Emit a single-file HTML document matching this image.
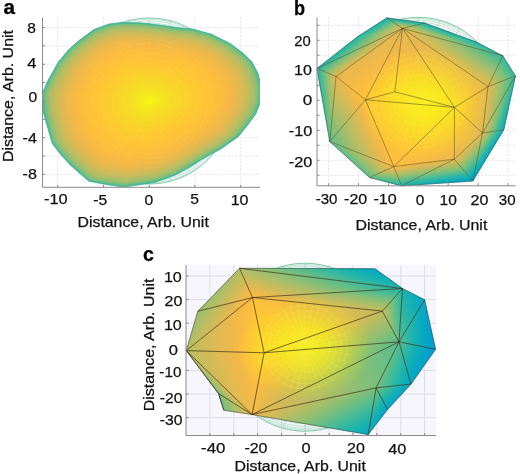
<!DOCTYPE html>
<html><head><meta charset="utf-8"><style>html,body{margin:0;padding:0;background:#fff;overflow:hidden;width:520px;height:474px}</style></head><body>
<svg width="520" height="474" viewBox="0 0 520 474" style="display:block;font-family:'Liberation Sans',Arial,sans-serif">
<defs><clipPath id="clipA"><rect x="42.5" y="16.5" width="217.5" height="170.8"/></clipPath>
<linearGradient id="f1" gradientUnits="userSpaceOnUse" x1="317" y1="68.5" x2="330.1" y2="85.1"><stop offset="0%" stop-color="#22b4ac"/><stop offset="14.3%" stop-color="#3cba9b"/><stop offset="28.6%" stop-color="#5bbd8a"/><stop offset="42.9%" stop-color="#7cbf7c"/><stop offset="57.1%" stop-color="#99bf70"/><stop offset="71.4%" stop-color="#b3bd65"/><stop offset="85.7%" stop-color="#cbbb5b"/><stop offset="100%" stop-color="#e2b951"/></linearGradient>
<linearGradient id="f2" gradientUnits="userSpaceOnUse" x1="386.8" y1="17.9" x2="395.3" y2="32.5"><stop offset="0%" stop-color="#14b0b5"/><stop offset="14.3%" stop-color="#2cb7a5"/><stop offset="28.6%" stop-color="#4bbc93"/><stop offset="42.9%" stop-color="#70bf81"/><stop offset="57.1%" stop-color="#91bf73"/><stop offset="71.4%" stop-color="#aebe67"/><stop offset="85.7%" stop-color="#c9bc5c"/><stop offset="100%" stop-color="#e2b951"/></linearGradient>
<linearGradient id="f3" gradientUnits="userSpaceOnUse" x1="386.8" y1="17.9" x2="385.7" y2="26.1"><stop offset="0%" stop-color="#14b0b5"/><stop offset="14.3%" stop-color="#2cb7a5"/><stop offset="28.6%" stop-color="#4bbc93"/><stop offset="42.9%" stop-color="#70bf81"/><stop offset="57.1%" stop-color="#91bf73"/><stop offset="71.4%" stop-color="#aebe67"/><stop offset="85.7%" stop-color="#c9bc5c"/><stop offset="100%" stop-color="#e2b951"/></linearGradient>
<linearGradient id="f4" gradientUnits="userSpaceOnUse" x1="424.6" y1="23.1" x2="420.4" y2="34.7"><stop offset="0%" stop-color="#18b1b2"/><stop offset="14.3%" stop-color="#31b8a2"/><stop offset="28.6%" stop-color="#50bc90"/><stop offset="42.9%" stop-color="#74bf7f"/><stop offset="57.1%" stop-color="#94bf72"/><stop offset="71.4%" stop-color="#b0bd66"/><stop offset="85.7%" stop-color="#cabb5c"/><stop offset="100%" stop-color="#e2b951"/></linearGradient>
<linearGradient id="f5" gradientUnits="userSpaceOnUse" x1="476.2" y1="42" x2="469.5" y2="57.4"><stop offset="0%" stop-color="#1db3af"/><stop offset="14.3%" stop-color="#36b99f"/><stop offset="28.6%" stop-color="#56bd8d"/><stop offset="42.9%" stop-color="#78bf7d"/><stop offset="57.1%" stop-color="#97bf71"/><stop offset="71.4%" stop-color="#b2bd66"/><stop offset="85.7%" stop-color="#cbbb5c"/><stop offset="100%" stop-color="#e2b951"/></linearGradient>
<linearGradient id="f6" gradientUnits="userSpaceOnUse" x1="502.7" y1="55.8" x2="484" y2="83.9"><stop offset="0%" stop-color="#33b8a1"/><stop offset="14.3%" stop-color="#4ebc91"/><stop offset="28.6%" stop-color="#6dbf82"/><stop offset="42.9%" stop-color="#8bbf75"/><stop offset="57.1%" stop-color="#a4be6b"/><stop offset="71.4%" stop-color="#bcbd62"/><stop offset="85.7%" stop-color="#d2bb59"/><stop offset="100%" stop-color="#e7b94f"/></linearGradient>
<linearGradient id="f7" gradientUnits="userSpaceOnUse" x1="402.5" y1="28.3" x2="381.5" y2="62.6"><stop offset="0%" stop-color="#e2b951"/><stop offset="14.3%" stop-color="#e8b94f"/><stop offset="28.6%" stop-color="#eeb94b"/><stop offset="42.9%" stop-color="#f3ba48"/><stop offset="57.1%" stop-color="#f8bb44"/><stop offset="71.4%" stop-color="#fcbd3f"/><stop offset="85.7%" stop-color="#fec03a"/><stop offset="100%" stop-color="#ffc436"/></linearGradient>
<linearGradient id="f8" gradientUnits="userSpaceOnUse" x1="402.5" y1="28.3" x2="376" y2="82.7"><stop offset="0%" stop-color="#e2b951"/><stop offset="14.3%" stop-color="#e9b94e"/><stop offset="28.6%" stop-color="#f0b94a"/><stop offset="42.9%" stop-color="#f7ba45"/><stop offset="57.1%" stop-color="#fcbd3f"/><stop offset="71.4%" stop-color="#fec139"/><stop offset="85.7%" stop-color="#fec634"/><stop offset="100%" stop-color="#fdcb30"/></linearGradient>
<linearGradient id="f9" gradientUnits="userSpaceOnUse" x1="402.5" y1="28.3" x2="429.5" y2="68.6"><stop offset="0%" stop-color="#e2b951"/><stop offset="14.3%" stop-color="#e9b94e"/><stop offset="28.6%" stop-color="#f0b94a"/><stop offset="42.9%" stop-color="#f7ba45"/><stop offset="57.1%" stop-color="#fcbd3f"/><stop offset="71.4%" stop-color="#fec139"/><stop offset="85.7%" stop-color="#fec634"/><stop offset="100%" stop-color="#fdcb30"/></linearGradient>
<linearGradient id="f10" gradientUnits="userSpaceOnUse" x1="402.5" y1="28.3" x2="424.2" y2="62.5"><stop offset="0%" stop-color="#e2b951"/><stop offset="14.3%" stop-color="#e8b94f"/><stop offset="28.6%" stop-color="#eeb94b"/><stop offset="42.9%" stop-color="#f3ba48"/><stop offset="57.1%" stop-color="#f8bb44"/><stop offset="71.4%" stop-color="#fcbd3f"/><stop offset="85.7%" stop-color="#fec03a"/><stop offset="100%" stop-color="#ffc436"/></linearGradient>
<linearGradient id="f11" gradientUnits="userSpaceOnUse" x1="317" y1="68.5" x2="327.2" y2="82.8"><stop offset="0%" stop-color="#22b4ac"/><stop offset="14.3%" stop-color="#3dba9b"/><stop offset="28.6%" stop-color="#5dbe89"/><stop offset="42.9%" stop-color="#7fbf7a"/><stop offset="57.1%" stop-color="#9dbf6e"/><stop offset="71.4%" stop-color="#b7bd64"/><stop offset="85.7%" stop-color="#d0bb5a"/><stop offset="100%" stop-color="#e7b94f"/></linearGradient>
<linearGradient id="f12" gradientUnits="userSpaceOnUse" x1="317" y1="68.5" x2="335" y2="66.6"><stop offset="0%" stop-color="#22b4ac"/><stop offset="14.3%" stop-color="#3dba9b"/><stop offset="28.6%" stop-color="#5dbe89"/><stop offset="42.9%" stop-color="#7fbf7a"/><stop offset="57.1%" stop-color="#9dbf6e"/><stop offset="71.4%" stop-color="#b7bd64"/><stop offset="85.7%" stop-color="#d0bb5a"/><stop offset="100%" stop-color="#e7b94f"/></linearGradient>
<linearGradient id="f13" gradientUnits="userSpaceOnUse" x1="329.8" y1="141.5" x2="374" y2="113.3"><stop offset="0%" stop-color="#5cbe8a"/><stop offset="14.3%" stop-color="#7cbf7c"/><stop offset="28.6%" stop-color="#98bf70"/><stop offset="42.9%" stop-color="#b2bd66"/><stop offset="57.1%" stop-color="#c9bc5c"/><stop offset="71.4%" stop-color="#dfba53"/><stop offset="85.7%" stop-color="#f5ba47"/><stop offset="100%" stop-color="#ffc436"/></linearGradient>
<linearGradient id="f14" gradientUnits="userSpaceOnUse" x1="365.4" y1="99.8" x2="366.3" y2="89.4"><stop offset="0%" stop-color="#ffc436"/><stop offset="14.3%" stop-color="#fec535"/><stop offset="28.6%" stop-color="#fec634"/><stop offset="42.9%" stop-color="#fec734"/><stop offset="57.1%" stop-color="#fec833"/><stop offset="71.4%" stop-color="#fec932"/><stop offset="85.7%" stop-color="#fdca31"/><stop offset="100%" stop-color="#fdcb30"/></linearGradient>
<linearGradient id="f15" gradientUnits="userSpaceOnUse" x1="393.8" y1="166.6" x2="399.3" y2="102.7"><stop offset="0%" stop-color="#fdbe3e"/><stop offset="14.3%" stop-color="#febf3d"/><stop offset="28.6%" stop-color="#fec03c"/><stop offset="42.9%" stop-color="#fec03a"/><stop offset="57.1%" stop-color="#fec139"/><stop offset="71.4%" stop-color="#ffc238"/><stop offset="85.7%" stop-color="#ffc337"/><stop offset="100%" stop-color="#ffc436"/></linearGradient>
<linearGradient id="f16" gradientUnits="userSpaceOnUse" x1="329.8" y1="141.5" x2="375" y2="119.8"><stop offset="0%" stop-color="#5cbe8a"/><stop offset="14.3%" stop-color="#7cbf7c"/><stop offset="28.6%" stop-color="#98bf70"/><stop offset="42.9%" stop-color="#b2bd66"/><stop offset="57.1%" stop-color="#c9bc5c"/><stop offset="71.4%" stop-color="#dfba53"/><stop offset="85.7%" stop-color="#f5ba47"/><stop offset="100%" stop-color="#ffc436"/></linearGradient>
<linearGradient id="f17" gradientUnits="userSpaceOnUse" x1="329.8" y1="141.5" x2="346.2" y2="123.4"><stop offset="0%" stop-color="#5cbe8a"/><stop offset="14.3%" stop-color="#7abf7c"/><stop offset="28.6%" stop-color="#95bf71"/><stop offset="42.9%" stop-color="#adbe68"/><stop offset="57.1%" stop-color="#c3bc5f"/><stop offset="71.4%" stop-color="#d8ba56"/><stop offset="85.7%" stop-color="#ecb94c"/><stop offset="100%" stop-color="#fdbe3e"/></linearGradient>
<linearGradient id="f18" gradientUnits="userSpaceOnUse" x1="401.5" y1="185.8" x2="403.5" y2="167.6"><stop offset="0%" stop-color="#1db3af"/><stop offset="14.3%" stop-color="#3cba9b"/><stop offset="28.6%" stop-color="#63be87"/><stop offset="42.9%" stop-color="#8abf76"/><stop offset="57.1%" stop-color="#abbe68"/><stop offset="71.4%" stop-color="#c9bc5c"/><stop offset="85.7%" stop-color="#e5b950"/><stop offset="100%" stop-color="#fdbe3e"/></linearGradient>
<linearGradient id="f19" gradientUnits="userSpaceOnUse" x1="401.5" y1="185.8" x2="398.4" y2="165.9"><stop offset="0%" stop-color="#1db3af"/><stop offset="14.3%" stop-color="#3cba9b"/><stop offset="28.6%" stop-color="#63be87"/><stop offset="42.9%" stop-color="#8abf76"/><stop offset="57.1%" stop-color="#abbe68"/><stop offset="71.4%" stop-color="#c9bc5c"/><stop offset="85.7%" stop-color="#e5b950"/><stop offset="100%" stop-color="#fdbe3e"/></linearGradient>
<linearGradient id="f20" gradientUnits="userSpaceOnUse" x1="454.3" y1="159.2" x2="430.1" y2="124.3"><stop offset="0%" stop-color="#ecb94c"/><stop offset="14.3%" stop-color="#f0b94a"/><stop offset="28.6%" stop-color="#f5ba47"/><stop offset="42.9%" stop-color="#f8bb44"/><stop offset="57.1%" stop-color="#fbbd40"/><stop offset="71.4%" stop-color="#febf3d"/><stop offset="85.7%" stop-color="#fec139"/><stop offset="100%" stop-color="#ffc436"/></linearGradient>
<linearGradient id="f21" gradientUnits="userSpaceOnUse" x1="482.5" y1="133" x2="450.1" y2="115.4"><stop offset="0%" stop-color="#ddba54"/><stop offset="14.3%" stop-color="#e4b951"/><stop offset="28.6%" stop-color="#eab94e"/><stop offset="42.9%" stop-color="#f0b94a"/><stop offset="57.1%" stop-color="#f6ba45"/><stop offset="71.4%" stop-color="#fbbd40"/><stop offset="85.7%" stop-color="#fec03b"/><stop offset="100%" stop-color="#ffc436"/></linearGradient>
<linearGradient id="f22" gradientUnits="userSpaceOnUse" x1="482.5" y1="133" x2="449.8" y2="123.6"><stop offset="0%" stop-color="#ddba54"/><stop offset="14.3%" stop-color="#e4b951"/><stop offset="28.6%" stop-color="#eab94e"/><stop offset="42.9%" stop-color="#f0b94a"/><stop offset="57.1%" stop-color="#f6ba45"/><stop offset="71.4%" stop-color="#fbbd40"/><stop offset="85.7%" stop-color="#fec03b"/><stop offset="100%" stop-color="#ffc436"/></linearGradient>
<linearGradient id="f23" gradientUnits="userSpaceOnUse" x1="502.7" y1="55.8" x2="478.3" y2="71.2"><stop offset="0%" stop-color="#33b8a1"/><stop offset="14.3%" stop-color="#4ebc91"/><stop offset="28.6%" stop-color="#6dbf82"/><stop offset="42.9%" stop-color="#8bbf75"/><stop offset="57.1%" stop-color="#a4be6b"/><stop offset="71.4%" stop-color="#bcbd62"/><stop offset="85.7%" stop-color="#d2bb59"/><stop offset="100%" stop-color="#e7b94f"/></linearGradient>
<linearGradient id="f24" gradientUnits="userSpaceOnUse" x1="515.4" y1="75.9" x2="490.3" y2="72"><stop offset="0%" stop-color="#33b8a1"/><stop offset="14.3%" stop-color="#4ebc91"/><stop offset="28.6%" stop-color="#6dbf82"/><stop offset="42.9%" stop-color="#8bbf75"/><stop offset="57.1%" stop-color="#a4be6b"/><stop offset="71.4%" stop-color="#bcbd62"/><stop offset="85.7%" stop-color="#d2bb59"/><stop offset="100%" stop-color="#e7b94f"/></linearGradient>
<linearGradient id="f25" gradientUnits="userSpaceOnUse" x1="503.8" y1="129.7" x2="485.2" y2="124.1"><stop offset="0%" stop-color="#0cadbb"/><stop offset="14.3%" stop-color="#22b4ac"/><stop offset="28.6%" stop-color="#3fba99"/><stop offset="42.9%" stop-color="#64be86"/><stop offset="57.1%" stop-color="#88bf77"/><stop offset="71.4%" stop-color="#a7be6a"/><stop offset="85.7%" stop-color="#c3bc5f"/><stop offset="100%" stop-color="#ddba54"/></linearGradient>
<linearGradient id="f26" gradientUnits="userSpaceOnUse" x1="472.8" y1="181" x2="457.3" y2="170.7"><stop offset="0%" stop-color="#06a3cb"/><stop offset="14.3%" stop-color="#0cadbc"/><stop offset="28.6%" stop-color="#26b5a9"/><stop offset="42.9%" stop-color="#4abc93"/><stop offset="57.1%" stop-color="#76bf7e"/><stop offset="71.4%" stop-color="#9dbf6e"/><stop offset="85.7%" stop-color="#bebc61"/><stop offset="100%" stop-color="#ddba54"/></linearGradient>
<linearGradient id="f27" gradientUnits="userSpaceOnUse" x1="472.8" y1="181" x2="452.4" y2="161.2"><stop offset="0%" stop-color="#06a3cb"/><stop offset="14.3%" stop-color="#0dadbb"/><stop offset="28.6%" stop-color="#2ab6a6"/><stop offset="42.9%" stop-color="#54bd8e"/><stop offset="57.1%" stop-color="#82bf79"/><stop offset="71.4%" stop-color="#a9be69"/><stop offset="85.7%" stop-color="#ccbb5b"/><stop offset="100%" stop-color="#ecb94c"/></linearGradient>
<linearGradient id="f28" gradientUnits="userSpaceOnUse" x1="472.8" y1="181" x2="469.3" y2="157"><stop offset="0%" stop-color="#06a3cb"/><stop offset="14.3%" stop-color="#0dadbb"/><stop offset="28.6%" stop-color="#2ab6a6"/><stop offset="42.9%" stop-color="#54bd8e"/><stop offset="57.1%" stop-color="#82bf79"/><stop offset="71.4%" stop-color="#a9be69"/><stop offset="85.7%" stop-color="#ccbb5b"/><stop offset="100%" stop-color="#ecb94c"/></linearGradient>
<radialGradient id="glowB" gradientUnits="userSpaceOnUse" cx="425.2" cy="104.3" r="64" gradientTransform="translate(425.2 104.3) scale(1 0.8750) translate(-425.2 -104.3)"><stop offset="0%" stop-color="#f7f611" stop-opacity="0.850"/><stop offset="35%" stop-color="#f7f611" stop-opacity="0.637"/><stop offset="70%" stop-color="#f7f611" stop-opacity="0.255"/><stop offset="100%" stop-color="#f7f611" stop-opacity="0.000"/></radialGradient>
<linearGradient id="f29" gradientUnits="userSpaceOnUse" x1="197.8" y1="311.3" x2="230.5" y2="332.1"><stop offset="0%" stop-color="#95bf71"/><stop offset="14.3%" stop-color="#a7be6a"/><stop offset="28.6%" stop-color="#b7bd64"/><stop offset="42.9%" stop-color="#c7bc5d"/><stop offset="57.1%" stop-color="#d6ba57"/><stop offset="71.4%" stop-color="#e5b950"/><stop offset="85.7%" stop-color="#f4ba47"/><stop offset="100%" stop-color="#febf3c"/></linearGradient>
<linearGradient id="f30" gradientUnits="userSpaceOnUse" x1="197.8" y1="311.3" x2="225.5" y2="332.6"><stop offset="0%" stop-color="#95bf71"/><stop offset="14.3%" stop-color="#a7be6a"/><stop offset="28.6%" stop-color="#b7bd64"/><stop offset="42.9%" stop-color="#c7bc5d"/><stop offset="57.1%" stop-color="#d6ba57"/><stop offset="71.4%" stop-color="#e5b950"/><stop offset="85.7%" stop-color="#f4ba47"/><stop offset="100%" stop-color="#febf3c"/></linearGradient>
<linearGradient id="f31" gradientUnits="userSpaceOnUse" x1="402.5" y1="288.5" x2="385.3" y2="341"><stop offset="0%" stop-color="#1db3af"/><stop offset="14.3%" stop-color="#3cba9b"/><stop offset="28.6%" stop-color="#64be86"/><stop offset="42.9%" stop-color="#8bbf75"/><stop offset="57.1%" stop-color="#adbe68"/><stop offset="71.4%" stop-color="#cbbb5c"/><stop offset="85.7%" stop-color="#e7b94f"/><stop offset="100%" stop-color="#febf3c"/></linearGradient>
<linearGradient id="f32" gradientUnits="userSpaceOnUse" x1="375" y1="268.8" x2="361.9" y2="308.6"><stop offset="0%" stop-color="#06a8c4"/><stop offset="14.3%" stop-color="#10afb8"/><stop offset="28.6%" stop-color="#23b5ab"/><stop offset="42.9%" stop-color="#3cba9b"/><stop offset="57.1%" stop-color="#59bd8b"/><stop offset="71.4%" stop-color="#78bf7d"/><stop offset="85.7%" stop-color="#94bf72"/><stop offset="100%" stop-color="#adbe68"/></linearGradient>
<linearGradient id="f33" gradientUnits="userSpaceOnUse" x1="402.5" y1="288.5" x2="394.8" y2="326.5"><stop offset="0%" stop-color="#1db3af"/><stop offset="14.3%" stop-color="#3cba9b"/><stop offset="28.6%" stop-color="#64be86"/><stop offset="42.9%" stop-color="#8bbf75"/><stop offset="57.1%" stop-color="#adbe68"/><stop offset="71.4%" stop-color="#cbbb5c"/><stop offset="85.7%" stop-color="#e7b94f"/><stop offset="100%" stop-color="#febf3c"/></linearGradient>
<linearGradient id="f34" gradientUnits="userSpaceOnUse" x1="382.3" y1="311.1" x2="290.6" y2="385.5"><stop offset="0%" stop-color="#c3bc5f"/><stop offset="14.3%" stop-color="#cfbb5a"/><stop offset="28.6%" stop-color="#dbba55"/><stop offset="42.9%" stop-color="#e6b94f"/><stop offset="57.1%" stop-color="#f2b949"/><stop offset="71.4%" stop-color="#fbbd40"/><stop offset="85.7%" stop-color="#ffc337"/><stop offset="100%" stop-color="#fdcb30"/></linearGradient>
<linearGradient id="f35" gradientUnits="userSpaceOnUse" x1="186.3" y1="350.6" x2="263.9" y2="355.6"><stop offset="0%" stop-color="#b8bd63"/><stop offset="14.3%" stop-color="#c6bc5e"/><stop offset="28.6%" stop-color="#d4bb58"/><stop offset="42.9%" stop-color="#e1ba52"/><stop offset="57.1%" stop-color="#eeb94b"/><stop offset="71.4%" stop-color="#f9bb43"/><stop offset="85.7%" stop-color="#ffc238"/><stop offset="100%" stop-color="#fdcb30"/></linearGradient>
<linearGradient id="f36" gradientUnits="userSpaceOnUse" x1="399" y1="341.8" x2="360.7" y2="286.2"><stop offset="0%" stop-color="#55bd8e"/><stop offset="14.3%" stop-color="#78bf7d"/><stop offset="28.6%" stop-color="#97bf70"/><stop offset="42.9%" stop-color="#b3bd65"/><stop offset="57.1%" stop-color="#cdbb5b"/><stop offset="71.4%" stop-color="#e5b950"/><stop offset="85.7%" stop-color="#fbbc41"/><stop offset="100%" stop-color="#fdcb30"/></linearGradient>
<linearGradient id="f37" gradientUnits="userSpaceOnUse" x1="402.5" y1="288.5" x2="380.7" y2="290.2"><stop offset="0%" stop-color="#1db3af"/><stop offset="14.3%" stop-color="#31b8a2"/><stop offset="28.6%" stop-color="#49bc94"/><stop offset="42.9%" stop-color="#65be86"/><stop offset="57.1%" stop-color="#80bf7a"/><stop offset="71.4%" stop-color="#98bf70"/><stop offset="85.7%" stop-color="#aebe67"/><stop offset="100%" stop-color="#c3bc5f"/></linearGradient>
<linearGradient id="f38" gradientUnits="userSpaceOnUse" x1="424.6" y1="299.8" x2="389.1" y2="311.3"><stop offset="0%" stop-color="#06a6c6"/><stop offset="14.3%" stop-color="#08abc0"/><stop offset="28.6%" stop-color="#0faeb9"/><stop offset="42.9%" stop-color="#19b2b1"/><stop offset="57.1%" stop-color="#26b5a9"/><stop offset="71.4%" stop-color="#34b8a0"/><stop offset="85.7%" stop-color="#43bb97"/><stop offset="100%" stop-color="#55bd8e"/></linearGradient>
<linearGradient id="f39" gradientUnits="userSpaceOnUse" x1="435.5" y1="349.3" x2="399.2" y2="350.4"><stop offset="0%" stop-color="#0899d1"/><stop offset="14.3%" stop-color="#06a1cc"/><stop offset="28.6%" stop-color="#06a7c5"/><stop offset="42.9%" stop-color="#0cadbc"/><stop offset="57.1%" stop-color="#19b2b2"/><stop offset="71.4%" stop-color="#2ab6a7"/><stop offset="85.7%" stop-color="#3eba9a"/><stop offset="100%" stop-color="#55bd8e"/></linearGradient>
<linearGradient id="f40" gradientUnits="userSpaceOnUse" x1="435.5" y1="349.3" x2="401.6" y2="335.5"><stop offset="0%" stop-color="#0899d1"/><stop offset="14.3%" stop-color="#06a1cc"/><stop offset="28.6%" stop-color="#06a7c5"/><stop offset="42.9%" stop-color="#0cadbc"/><stop offset="57.1%" stop-color="#19b2b2"/><stop offset="71.4%" stop-color="#2ab6a7"/><stop offset="85.7%" stop-color="#3eba9a"/><stop offset="100%" stop-color="#55bd8e"/></linearGradient>
<linearGradient id="f41" gradientUnits="userSpaceOnUse" x1="411" y1="384.1" x2="380.7" y2="374.1"><stop offset="0%" stop-color="#06a6c6"/><stop offset="14.3%" stop-color="#0aacbe"/><stop offset="28.6%" stop-color="#15b0b5"/><stop offset="42.9%" stop-color="#24b5aa"/><stop offset="57.1%" stop-color="#36b99f"/><stop offset="71.4%" stop-color="#4bbc93"/><stop offset="85.7%" stop-color="#63be87"/><stop offset="100%" stop-color="#7abf7c"/></linearGradient>
<linearGradient id="f42" gradientUnits="userSpaceOnUse" x1="387.5" y1="409.5" x2="370.9" y2="393.2"><stop offset="0%" stop-color="#06a5c9"/><stop offset="14.3%" stop-color="#08aac0"/><stop offset="28.6%" stop-color="#12afb7"/><stop offset="42.9%" stop-color="#21b4ac"/><stop offset="57.1%" stop-color="#34b8a0"/><stop offset="71.4%" stop-color="#49bc94"/><stop offset="85.7%" stop-color="#62be87"/><stop offset="100%" stop-color="#7abf7c"/></linearGradient>
<linearGradient id="f43" gradientUnits="userSpaceOnUse" x1="387.5" y1="409.5" x2="369.6" y2="398"><stop offset="0%" stop-color="#06a5c9"/><stop offset="14.3%" stop-color="#08aac0"/><stop offset="28.6%" stop-color="#12afb7"/><stop offset="42.9%" stop-color="#21b4ac"/><stop offset="57.1%" stop-color="#34b8a0"/><stop offset="71.4%" stop-color="#49bc94"/><stop offset="85.7%" stop-color="#62be87"/><stop offset="100%" stop-color="#7abf7c"/></linearGradient>
<linearGradient id="f44" gradientUnits="userSpaceOnUse" x1="368.2" y1="434.5" x2="332.4" y2="370"><stop offset="0%" stop-color="#07aac1"/><stop offset="14.3%" stop-color="#1bb2b0"/><stop offset="28.6%" stop-color="#3cba9b"/><stop offset="42.9%" stop-color="#65be86"/><stop offset="57.1%" stop-color="#8dbf74"/><stop offset="71.4%" stop-color="#b0bd66"/><stop offset="85.7%" stop-color="#cfbb5a"/><stop offset="100%" stop-color="#ecb94c"/></linearGradient>
<linearGradient id="f45" gradientUnits="userSpaceOnUse" x1="399" y1="341.8" x2="243.7" y2="373.7"><stop offset="0%" stop-color="#55bd8e"/><stop offset="14.3%" stop-color="#70bf81"/><stop offset="28.6%" stop-color="#89bf76"/><stop offset="42.9%" stop-color="#9fbe6d"/><stop offset="57.1%" stop-color="#b4bd65"/><stop offset="71.4%" stop-color="#c8bc5d"/><stop offset="85.7%" stop-color="#daba55"/><stop offset="100%" stop-color="#ecb94c"/></linearGradient>
<linearGradient id="f46" gradientUnits="userSpaceOnUse" x1="399" y1="341.8" x2="313.1" y2="282.2"><stop offset="0%" stop-color="#55bd8e"/><stop offset="14.3%" stop-color="#78bf7d"/><stop offset="28.6%" stop-color="#97bf70"/><stop offset="42.9%" stop-color="#b3bd65"/><stop offset="57.1%" stop-color="#cdbb5b"/><stop offset="71.4%" stop-color="#e5b950"/><stop offset="85.7%" stop-color="#fbbc41"/><stop offset="100%" stop-color="#fdcb30"/></linearGradient>
<linearGradient id="f47" gradientUnits="userSpaceOnUse" x1="186.3" y1="350.6" x2="254.5" y2="326.1"><stop offset="0%" stop-color="#b8bd63"/><stop offset="14.3%" stop-color="#c6bc5e"/><stop offset="28.6%" stop-color="#d4bb58"/><stop offset="42.9%" stop-color="#e1ba52"/><stop offset="57.1%" stop-color="#eeb94b"/><stop offset="71.4%" stop-color="#f9bb43"/><stop offset="85.7%" stop-color="#ffc238"/><stop offset="100%" stop-color="#fdcb30"/></linearGradient>
<linearGradient id="f48" gradientUnits="userSpaceOnUse" x1="218.5" y1="393.5" x2="226.2" y2="386.4"><stop offset="0%" stop-color="#7abf7c"/><stop offset="14.3%" stop-color="#8dbf74"/><stop offset="28.6%" stop-color="#9fbe6d"/><stop offset="42.9%" stop-color="#b0bd66"/><stop offset="57.1%" stop-color="#c0bc60"/><stop offset="71.4%" stop-color="#cfbb5a"/><stop offset="85.7%" stop-color="#deba53"/><stop offset="100%" stop-color="#ecb94c"/></linearGradient>
<linearGradient id="f49" gradientUnits="userSpaceOnUse" x1="223.8" y1="410.2" x2="245.5" y2="400.2"><stop offset="0%" stop-color="#6bbf83"/><stop offset="14.3%" stop-color="#82bf79"/><stop offset="28.6%" stop-color="#97bf71"/><stop offset="42.9%" stop-color="#a9be69"/><stop offset="57.1%" stop-color="#bbbd62"/><stop offset="71.4%" stop-color="#ccbb5b"/><stop offset="85.7%" stop-color="#dcba54"/><stop offset="100%" stop-color="#ecb94c"/></linearGradient>
<radialGradient id="glowC" gradientUnits="userSpaceOnUse" cx="305" cy="347.2" r="68" gradientTransform="translate(305 347.2) scale(1 0.7647) translate(-305 -347.2)"><stop offset="0%" stop-color="#f7f611" stop-opacity="0.880"/><stop offset="35%" stop-color="#f7f611" stop-opacity="0.660"/><stop offset="70%" stop-color="#f7f611" stop-opacity="0.264"/><stop offset="100%" stop-color="#f7f611" stop-opacity="0.000"/></radialGradient></defs>
<rect width="520" height="474" fill="#fff"/>
<line x1="57.7" y1="17.5" x2="57.7" y2="187.3" stroke="#e4e4ec" stroke-width="1" stroke-dasharray="2 1.5"/>
<line x1="103.5" y1="17.5" x2="103.5" y2="187.3" stroke="#e4e4ec" stroke-width="1" stroke-dasharray="2 1.5"/>
<line x1="149.3" y1="17.5" x2="149.3" y2="187.3" stroke="#e4e4ec" stroke-width="1" stroke-dasharray="2 1.5"/>
<line x1="194.9" y1="17.5" x2="194.9" y2="187.3" stroke="#e4e4ec" stroke-width="1" stroke-dasharray="2 1.5"/>
<line x1="240.7" y1="17.5" x2="240.7" y2="187.3" stroke="#e4e4ec" stroke-width="1" stroke-dasharray="2 1.5"/>
<line x1="42.5" y1="27.6" x2="260" y2="27.6" stroke="#e4e4ec" stroke-width="1" stroke-dasharray="2 1.5"/>
<line x1="42.5" y1="45.9" x2="260" y2="45.9" stroke="#e4e4ec" stroke-width="1" stroke-dasharray="2 1.5"/>
<line x1="42.5" y1="64.3" x2="260" y2="64.3" stroke="#e4e4ec" stroke-width="1" stroke-dasharray="2 1.5"/>
<line x1="42.5" y1="82.6" x2="260" y2="82.6" stroke="#e4e4ec" stroke-width="1" stroke-dasharray="2 1.5"/>
<line x1="42.5" y1="101" x2="260" y2="101" stroke="#e4e4ec" stroke-width="1" stroke-dasharray="2 1.5"/>
<line x1="42.5" y1="119.3" x2="260" y2="119.3" stroke="#e4e4ec" stroke-width="1" stroke-dasharray="2 1.5"/>
<line x1="42.5" y1="137.6" x2="260" y2="137.6" stroke="#e4e4ec" stroke-width="1" stroke-dasharray="2 1.5"/>
<line x1="42.5" y1="156" x2="260" y2="156" stroke="#e4e4ec" stroke-width="1" stroke-dasharray="2 1.5"/>
<line x1="42.5" y1="174.3" x2="260" y2="174.3" stroke="#e4e4ec" stroke-width="1" stroke-dasharray="2 1.5"/>
<ellipse cx="149.3" cy="101" rx="81.8" ry="81.8" fill="none" stroke="#a4d6bf" stroke-width="0.7" stroke-opacity="1.0"/>
<ellipse cx="149.3" cy="101" rx="80.1" ry="80.1" fill="none" stroke="#a4d6bf" stroke-width="0.7" stroke-opacity="1.0"/>
<ellipse cx="149.3" cy="101" rx="78" ry="78" fill="none" stroke="#a4d6bf" stroke-width="0.7" stroke-opacity="1.0"/>
<ellipse cx="149.3" cy="101" rx="75.5" ry="75.5" fill="none" stroke="#a4d6bf" stroke-width="0.7" stroke-opacity="1.0"/>
<ellipse cx="149.3" cy="101" rx="72.2" ry="72.2" fill="none" stroke="#a4d6bf" stroke-width="0.7" stroke-opacity="1.0"/>
<ellipse cx="149.3" cy="101" rx="68.1" ry="68.1" fill="none" stroke="#a4d6bf" stroke-width="0.7" stroke-opacity="1.0"/>
<line x1="215.7" y1="101" x2="232.3" y2="101" stroke="#a4d6bf" stroke-width="0.6" stroke-opacity="1.0"/>
<line x1="213.4" y1="118.2" x2="229.5" y2="122.5" stroke="#a4d6bf" stroke-width="0.6" stroke-opacity="1.0"/>
<line x1="206.8" y1="134.2" x2="221.2" y2="142.5" stroke="#a4d6bf" stroke-width="0.6" stroke-opacity="1.0"/>
<line x1="196.3" y1="148" x2="208" y2="159.7" stroke="#a4d6bf" stroke-width="0.6" stroke-opacity="1.0"/>
<line x1="182.5" y1="158.5" x2="190.8" y2="172.9" stroke="#a4d6bf" stroke-width="0.6" stroke-opacity="1.0"/>
<line x1="166.5" y1="165.1" x2="170.8" y2="181.2" stroke="#a4d6bf" stroke-width="0.6" stroke-opacity="1.0"/>
<line x1="149.3" y1="167.4" x2="149.3" y2="184" stroke="#a4d6bf" stroke-width="0.6" stroke-opacity="1.0"/>
<line x1="132.1" y1="165.1" x2="127.8" y2="181.2" stroke="#a4d6bf" stroke-width="0.6" stroke-opacity="1.0"/>
<line x1="116.1" y1="158.5" x2="107.8" y2="172.9" stroke="#a4d6bf" stroke-width="0.6" stroke-opacity="1.0"/>
<line x1="102.3" y1="148" x2="90.6" y2="159.7" stroke="#a4d6bf" stroke-width="0.6" stroke-opacity="1.0"/>
<line x1="91.8" y1="134.2" x2="77.4" y2="142.5" stroke="#a4d6bf" stroke-width="0.6" stroke-opacity="1.0"/>
<line x1="85.2" y1="118.2" x2="69.1" y2="122.5" stroke="#a4d6bf" stroke-width="0.6" stroke-opacity="1.0"/>
<line x1="82.9" y1="101" x2="66.3" y2="101" stroke="#a4d6bf" stroke-width="0.6" stroke-opacity="1.0"/>
<line x1="85.2" y1="83.8" x2="69.1" y2="79.5" stroke="#a4d6bf" stroke-width="0.6" stroke-opacity="1.0"/>
<line x1="91.8" y1="67.8" x2="77.4" y2="59.5" stroke="#a4d6bf" stroke-width="0.6" stroke-opacity="1.0"/>
<line x1="102.3" y1="54" x2="90.6" y2="42.3" stroke="#a4d6bf" stroke-width="0.6" stroke-opacity="1.0"/>
<line x1="116.1" y1="43.5" x2="107.8" y2="29.1" stroke="#a4d6bf" stroke-width="0.6" stroke-opacity="1.0"/>
<line x1="132.1" y1="36.9" x2="127.8" y2="20.8" stroke="#a4d6bf" stroke-width="0.6" stroke-opacity="1.0"/>
<line x1="149.3" y1="34.6" x2="149.3" y2="18" stroke="#a4d6bf" stroke-width="0.6" stroke-opacity="1.0"/>
<line x1="166.5" y1="36.9" x2="170.8" y2="20.8" stroke="#a4d6bf" stroke-width="0.6" stroke-opacity="1.0"/>
<line x1="182.5" y1="43.5" x2="190.8" y2="29.1" stroke="#a4d6bf" stroke-width="0.6" stroke-opacity="1.0"/>
<line x1="196.3" y1="54" x2="208" y2="42.3" stroke="#a4d6bf" stroke-width="0.6" stroke-opacity="1.0"/>
<line x1="206.8" y1="67.8" x2="221.2" y2="59.5" stroke="#a4d6bf" stroke-width="0.6" stroke-opacity="1.0"/>
<line x1="213.4" y1="83.8" x2="229.5" y2="79.5" stroke="#a4d6bf" stroke-width="0.6" stroke-opacity="1.0"/>
<ellipse cx="149.3" cy="101" rx="83" ry="83" fill="none" stroke="#72c29a" stroke-width="0.9" stroke-opacity="1.0"/>
<g clip-path="url(#clipA)"><path d="M42.5,92.7 L47.7,81 L58.3,62 L68.8,49.4 L78.5,40.8 L93.8,29.6 L109,24 L120.8,22.6 L140,22.8 L160,25 L180,28 L192.6,29 L211.6,34.2 L230.6,43.7 L243.2,53.2 L251.7,61.6 L258,73.2 L261,86 L261,100 L259.7,104 L255.9,113.7 L247.5,125.3 L238,136.9 L220,149.5 L211.6,153.8 L201,160 L190,167 L175.6,175 L155.4,182.2 L138,185 L123.6,187 L109.2,185 L96.5,182.7 L88.8,181.3 L79.2,173 L69.6,164.4 L60,153.8 L52.1,143.3 L46.3,123 L43.5,113 L42.5,100Z" fill="#55bd8e"/>
<path d="M44.3,92.8 L49.4,81.3 L59.8,62.6 L70.1,50.3 L79.7,41.8 L94.7,30.8 L109.7,25.3 L121.3,23.9 L140.2,24.1 L159.8,26.3 L179.5,29.2 L191.9,30.2 L210.6,35.3 L229.2,44.7 L241.6,54 L250,62.3 L256.2,73.7 L259.1,86.2 L259.1,100 L257.9,104 L254.1,113.5 L245.9,124.9 L236.5,136.3 L218.8,148.7 L210.6,152.9 L200.1,159 L189.3,165.9 L175.2,173.8 L155.3,180.8 L138.2,183.6 L124,185.6 L109.9,183.6 L97.4,181.3 L89.8,180 L80.4,171.8 L70.9,163.3 L61.5,152.9 L53.7,142.6 L48,122.6 L45.3,112.8 L44.3,100Z" fill="#74bf7f"/>
<path d="M46.1,93 L51.1,81.7 L61.3,63.3 L71.5,51.1 L80.9,42.8 L95.7,32 L110.3,26.6 L121.8,25.2 L140.3,25.4 L159.6,27.5 L179,30.4 L191.2,31.4 L209.5,36.4 L227.9,45.6 L240.1,54.8 L248.3,62.9 L254.4,74.1 L257.3,86.5 L257.3,100 L256,103.9 L252.3,113.3 L244.2,124.5 L235,135.7 L217.6,147.9 L209.5,152 L199.3,158 L188.6,164.8 L174.7,172.5 L155.2,179.5 L138.4,182.2 L124.5,184.1 L110.5,182.2 L98.3,180 L90.8,178.6 L81.5,170.6 L72.3,162.3 L63,152 L55.3,141.9 L49.7,122.3 L47,112.6 L46.1,100Z" fill="#8ebf74"/>
<path d="M47.8,93.1 L52.8,82 L62.9,64 L72.8,52 L82,43.8 L96.6,33.2 L111,27.9 L122.2,26.5 L140.5,26.7 L159.5,28.8 L178.5,31.7 L190.4,32.6 L208.5,37.5 L226.5,46.6 L238.5,55.6 L246.6,63.6 L252.6,74.6 L255.4,86.8 L255.4,100 L254.2,103.8 L250.6,113.1 L242.6,124.1 L233.6,135.1 L216.5,147.1 L208.5,151.2 L198.4,157.1 L188,163.7 L174.3,171.3 L155.1,178.1 L138.6,180.8 L124.9,182.7 L111.2,180.8 L99.1,178.6 L91.8,177.3 L82.7,169.4 L73.6,161.2 L64.5,151.2 L57,141.2 L51.5,121.9 L48.8,112.4 L47.8,100Z" fill="#9ebe6e"/>
<path d="M49.6,93.3 L54.5,82.3 L64.4,64.6 L74.2,52.8 L83.2,44.8 L97.5,34.4 L111.7,29.1 L122.7,27.8 L140.6,28 L159.3,30.1 L178,32.9 L189.7,33.8 L207.4,38.7 L225.2,47.5 L236.9,56.4 L244.9,64.2 L250.8,75.1 L253.6,87 L253.6,100.1 L252.3,103.8 L248.8,112.9 L241,123.7 L232.1,134.5 L215.3,146.3 L207.4,150.3 L197.6,156.1 L187.3,162.6 L173.8,170.1 L155,176.8 L138.8,179.4 L125.3,181.3 L111.9,179.4 L100,177.3 L92.8,175.9 L83.9,168.2 L74.9,160.2 L66,150.3 L58.6,140.5 L53.2,121.5 L50.6,112.2 L49.6,100.1Z" fill="#adbe68"/>
<path d="M51.4,93.4 L56.2,82.7 L65.9,65.2 L75.5,53.7 L84.4,45.8 L98.4,35.5 L112.4,30.4 L123.2,29.1 L140.8,29.3 L159.1,31.3 L177.4,34.1 L189,35 L206.4,39.8 L223.8,48.5 L235.4,57.2 L243.2,64.9 L248.9,75.5 L251.7,87.2 L251.7,100.1 L250.5,103.8 L247,112.6 L239.3,123.3 L230.6,133.9 L214.1,145.5 L206.4,149.4 L196.7,155.1 L186.6,161.5 L173.4,168.8 L154.9,175.4 L138.9,178 L125.7,179.8 L112.5,178 L100.9,175.9 L93.8,174.6 L85,167 L76.2,159.1 L67.4,149.4 L60.2,139.8 L54.9,121.2 L52.3,112 L51.4,100.1Z" fill="#b7bd64"/>
<path d="M53.2,93.5 L57.9,83 L67.4,65.9 L76.8,54.6 L85.6,46.8 L99.3,36.7 L113,31.7 L123.7,30.4 L140.9,30.6 L158.9,32.6 L176.9,35.3 L188.3,36.2 L205.4,40.9 L222.5,49.4 L233.8,58 L241.5,65.5 L247.1,76 L249.8,87.5 L249.8,100.1 L248.7,103.7 L245.2,112.4 L237.7,122.9 L229.1,133.3 L212.9,144.7 L205.4,148.5 L195.8,154.1 L185.9,160.4 L173,167.6 L154.8,174.1 L139.1,176.6 L126.2,178.4 L113.2,176.6 L101.8,174.5 L94.8,173.3 L86.2,165.8 L77.6,158.1 L68.9,148.5 L61.8,139.1 L56.6,120.8 L54.1,111.8 L53.2,100.1Z" fill="#c0bc60"/>
<path d="M55,93.7 L59.6,83.3 L68.9,66.6 L78.2,55.4 L86.8,47.8 L100.3,37.9 L113.7,33 L124.1,31.7 L141.1,31.9 L158.8,33.9 L176.4,36.5 L187.5,37.4 L204.3,42 L221.1,50.4 L232.2,58.8 L239.8,66.2 L245.3,76.4 L248,87.8 L248,100.1 L246.8,103.7 L243.5,112.2 L236,122.5 L227.7,132.7 L211.8,143.8 L204.3,147.6 L195,153.1 L185.3,159.3 L172.5,166.4 L154.7,172.7 L139.3,175.2 L126.6,177 L113.9,175.2 L102.7,173.2 L95.9,171.9 L87.4,164.6 L78.9,157 L70.4,147.6 L63.4,138.4 L58.3,120.4 L55.8,111.6 L55,100.1Z" fill="#c9bc5c"/>
<path d="M56.7,93.8 L61.2,83.7 L70.4,67.2 L79.5,56.3 L87.9,48.8 L101.2,39.1 L114.4,34.3 L124.6,33.1 L141.2,33.2 L158.6,35.1 L175.9,37.7 L186.8,38.6 L203.3,43.1 L219.8,51.3 L230.7,59.6 L238,66.9 L243.5,76.9 L246.1,88 L246.1,100.1 L245,103.6 L241.7,112 L234.4,122.1 L226.2,132.1 L210.6,143 L203.3,146.8 L194.1,152.1 L184.6,158.2 L172.1,165.1 L154.6,171.4 L139.5,173.8 L127,175.5 L114.5,173.8 L103.5,171.8 L96.9,170.6 L88.5,163.4 L80.2,155.9 L71.9,146.8 L65.1,137.7 L60,120.1 L57.6,111.4 L56.7,100.1Z" fill="#d0bb59"/>
<path d="M58.5,93.9 L62.9,84 L72,67.8 L80.9,57.1 L89.1,49.8 L102.1,40.3 L115,35.5 L125.1,34.4 L141.4,34.5 L158.4,36.4 L175.4,39 L186.1,39.8 L202.3,44.2 L218.4,52.3 L229.1,60.4 L236.3,67.5 L241.7,77.4 L244.2,88.2 L244.2,100.2 L243.1,103.5 L239.9,111.8 L232.8,121.7 L224.7,131.5 L209.4,142.2 L202.3,145.9 L193.2,151.2 L183.9,157.1 L171.7,163.9 L154.5,170 L139.7,172.4 L127.5,174.1 L115.2,172.4 L104.4,170.4 L97.9,169.3 L89.7,162.2 L81.6,154.9 L73.4,145.9 L66.7,137 L61.8,119.7 L59.4,111.2 L58.5,100.2Z" fill="#d7ba56"/>
<path d="M60.3,94.1 L64.6,84.3 L73.5,68.5 L82.2,58 L90.3,50.8 L103,41.5 L115.7,36.8 L125.5,35.7 L141.6,35.8 L158.2,37.7 L174.9,40.2 L185.4,41 L201.2,45.3 L217.1,53.2 L227.6,61.2 L234.6,68.2 L239.9,77.8 L242.4,88.5 L242.4,100.2 L241.3,103.5 L238.1,111.6 L231.1,121.2 L223.2,130.9 L208.2,141.4 L201.2,145 L192.4,150.2 L183.2,156 L171.2,162.7 L154.4,168.7 L139.9,171 L127.9,172.7 L115.9,171 L105.3,169.1 L98.9,167.9 L90.9,161 L82.9,153.8 L74.9,145 L68.3,136.2 L63.5,119.3 L61.1,111 L60.3,100.2Z" fill="#deba54"/>
<path d="M62.1,94.2 L66.3,84.7 L75,69.2 L83.6,58.9 L91.5,51.8 L104,42.7 L116.4,38.1 L126,37 L141.7,37.1 L158,38.9 L174.4,41.4 L184.7,42.2 L200.2,46.4 L215.7,54.2 L226,62 L232.9,68.8 L238.1,78.3 L240.5,88.8 L240.5,100.2 L239.5,103.5 L236.4,111.4 L229.5,120.8 L221.7,130.3 L207,140.6 L200.2,144.1 L191.5,149.2 L182.5,154.9 L170.8,161.4 L154.3,167.3 L140.1,169.6 L128.3,171.2 L116.6,169.6 L106.2,167.7 L99.9,166.6 L92.1,159.8 L84.2,152.8 L76.4,144.1 L69.9,135.5 L65.2,119 L62.9,110.8 L62.1,100.2Z" fill="#e2b951"/>
<path d="M63.9,94.4 L68,85 L76.5,69.8 L84.9,59.7 L92.7,52.8 L104.9,43.9 L117.1,39.4 L126.5,38.3 L141.9,38.4 L157.9,40.2 L173.9,42.6 L183.9,43.4 L199.1,47.6 L214.3,55.2 L224.4,62.8 L231.2,69.5 L236.3,78.8 L238.7,89 L238.7,100.2 L237.6,103.4 L234.6,111.2 L227.9,120.4 L220.3,129.7 L205.9,139.8 L199.1,143.2 L190.7,148.2 L181.9,153.8 L170.3,160.2 L154.2,166 L140.3,168.2 L128.7,169.8 L117.2,168.2 L107.1,166.4 L100.9,165.2 L93.2,158.6 L85.5,151.7 L77.9,143.2 L71.5,134.8 L66.9,118.6 L64.7,110.6 L63.9,100.2Z" fill="#e6b94f"/>
<path d="M65.6,94.5 L69.7,85.3 L78,70.5 L86.2,60.6 L93.8,53.8 L105.8,45.1 L117.7,40.7 L127,39.6 L142,39.7 L157.7,41.5 L173.3,43.8 L183.2,44.6 L198.1,48.7 L213,56.1 L222.9,63.6 L229.5,70.1 L234.4,79.2 L236.8,89.2 L236.8,100.2 L235.8,103.3 L232.8,110.9 L226.2,120 L218.8,129.1 L204.7,139 L198.1,142.4 L189.8,147.2 L181.2,152.7 L169.9,159 L154.1,164.6 L140.4,166.8 L129.2,168.4 L117.9,166.8 L107.9,165 L101.9,163.9 L94.4,157.4 L86.9,150.7 L79.3,142.4 L73.2,134.1 L68.6,118.2 L66.4,110.4 L65.6,100.2Z" fill="#ebb94d"/>
<path d="M67.4,94.6 L71.4,85.7 L79.5,71.1 L87.6,61.4 L95,54.8 L106.8,46.3 L118.4,42 L127.5,40.9 L142.2,41 L157.5,42.7 L172.8,45 L182.5,45.8 L197.1,49.8 L211.6,57.1 L221.3,64.4 L227.8,70.8 L232.6,79.7 L234.9,89.5 L234.9,100.2 L233.9,103.3 L231,110.7 L224.6,119.6 L217.3,128.5 L203.5,138.2 L197.1,141.5 L188.9,146.2 L180.5,151.6 L169.5,157.7 L154,163.3 L140.6,165.4 L129.6,166.9 L118.6,165.4 L108.8,163.6 L102.9,162.6 L95.6,156.2 L88.2,149.6 L80.8,141.5 L74.8,133.4 L70.3,117.9 L68.2,110.2 L67.4,100.2Z" fill="#efb94b"/>
<path d="M69.2,94.8 L73.1,86 L81,71.8 L88.9,62.3 L96.2,55.8 L107.7,47.4 L119.1,43.2 L127.9,42.2 L142.3,42.3 L157.3,44 L172.3,46.2 L181.8,47 L196,50.9 L210.3,58 L219.7,65.2 L226.1,71.5 L230.8,80.2 L233.1,89.8 L233.1,100.2 L232.1,103.2 L229.2,110.5 L222.9,119.2 L215.8,127.9 L202.3,137.4 L196,140.6 L188.1,145.2 L179.8,150.5 L169,156.5 L153.9,161.9 L140.8,164 L130,165.5 L119.2,164 L109.7,162.3 L103.9,161.2 L96.7,155 L89.5,148.6 L82.3,140.6 L76.4,132.7 L72,117.5 L70,110 L69.2,100.2Z" fill="#f2b949"/>
<path d="M71,94.9 L74.8,86.3 L82.6,72.4 L90.3,63.2 L97.4,56.9 L108.6,48.6 L119.7,44.5 L128.4,43.5 L142.5,43.7 L157.1,45.3 L171.8,47.5 L181.1,48.2 L195,52 L208.9,59 L218.2,65.9 L224.4,72.1 L229,80.6 L231.2,90 L231.2,100.3 L230.3,103.2 L227.5,110.3 L221.3,118.8 L214.3,127.3 L201.1,136.6 L195,139.7 L187.2,144.3 L179.1,149.4 L168.6,155.3 L153.8,160.5 L141,162.6 L130.5,164.1 L119.9,162.6 L110.6,160.9 L104.9,159.9 L97.9,153.8 L90.9,147.5 L83.8,139.7 L78,132 L73.8,117.1 L71.7,109.8 L71,100.3Z" fill="#f4ba48"/>
<path d="M72.8,95.1 L76.5,86.7 L84.1,73 L91.6,64 L98.6,57.9 L109.5,49.8 L120.4,45.8 L128.9,44.8 L142.6,45 L157,46.5 L171.3,48.7 L180.3,49.4 L193.9,53.1 L207.6,59.9 L216.6,66.7 L222.7,72.8 L227.2,81.1 L229.4,90.2 L229.4,100.3 L228.4,103.2 L225.7,110.1 L219.7,118.4 L212.9,126.7 L200,135.8 L193.9,138.8 L186.4,143.3 L178.5,148.3 L168.1,154 L153.7,159.2 L141.2,161.2 L130.9,162.6 L120.6,161.2 L111.5,159.6 L105.9,158.5 L99.1,152.6 L92.2,146.4 L85.3,138.8 L79.6,131.3 L75.5,116.8 L73.5,109.6 L72.8,100.3Z" fill="#f6ba46"/>
<path d="M74.5,95.2 L78.2,87 L85.6,73.7 L93,64.9 L99.7,58.9 L110.5,51 L121.1,47.1 L129.3,46.1 L142.8,46.3 L156.8,47.8 L170.8,49.9 L179.6,50.6 L192.9,54.2 L206.2,60.9 L215,67.5 L221,73.4 L225.4,81.5 L227.5,90.5 L227.5,100.3 L226.6,103.1 L223.9,109.9 L218,118 L211.4,126.1 L198.8,134.9 L192.9,138 L185.5,142.3 L177.8,147.2 L167.7,152.8 L153.6,157.8 L141.4,159.8 L131.3,161.2 L121.2,159.8 L112.3,158.2 L107,157.2 L100.2,151.4 L93.5,145.4 L86.8,138 L81.3,130.6 L77.2,116.4 L75.2,109.4 L74.5,100.3Z" fill="#f8ba44"/>
<path d="M76.3,95.3 L79.9,87.3 L87.1,74.3 L94.3,65.7 L100.9,59.9 L111.4,52.2 L121.8,48.4 L129.8,47.4 L142.9,47.6 L156.6,49.1 L170.3,51.1 L178.9,51.8 L191.9,55.4 L204.9,61.8 L213.5,68.3 L219.3,74.1 L223.6,82 L225.6,90.8 L225.6,100.3 L224.7,103 L222.1,109.7 L216.4,117.6 L209.9,125.5 L197.6,134.1 L191.9,137.1 L184.6,141.3 L177.1,146.1 L167.3,151.6 L153.5,156.5 L141.6,158.4 L131.7,159.8 L121.9,158.4 L113.2,156.8 L108,155.9 L101.4,150.2 L94.8,144.3 L88.3,137.1 L82.9,129.9 L78.9,116 L77,109.2 L76.3,100.3Z" fill="#f9bb43"/>
<path d="M78.1,95.5 L81.6,87.7 L88.6,75 L95.6,66.6 L102.1,60.9 L112.3,53.4 L122.4,49.7 L130.3,48.7 L143.1,48.9 L156.4,50.3 L169.8,52.3 L178.2,53 L190.8,56.5 L203.5,62.8 L211.9,69.1 L217.6,74.7 L221.8,82.5 L223.8,91 L223.8,100.3 L222.9,103 L220.4,109.5 L214.8,117.2 L208.4,124.9 L196.4,133.3 L190.8,136.2 L183.8,140.3 L176.4,145 L166.8,150.3 L153.4,155.1 L141.8,157 L132.2,158.3 L122.6,157 L114.1,155.5 L109,154.5 L102.6,149 L96.2,143.3 L89.8,136.2 L84.5,129.2 L80.6,115.7 L78.8,109 L78.1,100.3Z" fill="#fbbc41"/>
<path d="M79.9,95.6 L83.3,88 L90.2,75.7 L97,67.5 L103.3,61.9 L113.2,54.6 L123.1,50.9 L130.8,50 L143.3,50.2 L156.3,51.6 L169.3,53.5 L177.4,54.2 L189.8,57.6 L202.1,63.8 L210.3,69.9 L215.9,75.4 L220,82.9 L221.9,91.2 L221.9,100.3 L221.1,103 L218.6,109.3 L213.1,116.8 L207,124.3 L195.3,132.5 L189.8,135.3 L182.9,139.3 L175.8,143.9 L166.4,149.1 L153.3,153.8 L142,155.6 L132.6,156.9 L123.2,155.6 L115,154.1 L110,153.2 L103.7,147.8 L97.5,142.2 L91.3,135.3 L86.1,128.5 L82.3,115.3 L80.5,108.8 L79.9,100.3Z" fill="#fcbd3f"/>
<path d="M81.7,95.7 L85,88.3 L91.7,76.3 L98.3,68.3 L104.5,62.9 L114.2,55.8 L123.8,52.2 L131.2,51.3 L143.4,51.5 L156.1,52.9 L168.7,54.8 L176.7,55.4 L188.8,58.7 L200.8,64.7 L208.8,70.7 L214.2,76 L218.1,83.4 L220,91.5 L220,100.4 L219.2,102.9 L216.8,109 L211.5,116.4 L205.5,123.7 L194.1,131.7 L188.8,134.4 L182,138.4 L175.1,142.8 L166,147.9 L153.2,152.4 L142.1,154.2 L133,155.5 L123.9,154.2 L115.9,152.7 L111,151.9 L104.9,146.6 L98.8,141.2 L92.7,134.4 L87.7,127.8 L84.1,114.9 L82.3,108.6 L81.7,100.4Z" fill="#fdbe3e"/>
<path d="M83.4,95.9 L86.6,88.7 L93.2,77 L99.7,69.2 L105.6,63.9 L115.1,57 L124.4,53.5 L131.7,52.7 L143.6,52.8 L155.9,54.1 L168.2,56 L176,56.6 L187.7,59.8 L199.4,65.7 L207.2,71.5 L212.4,76.7 L216.3,83.9 L218.2,91.8 L218.2,100.4 L217.4,102.8 L215,108.8 L209.9,116 L204,123.1 L192.9,130.9 L187.7,133.6 L181.2,137.4 L174.4,141.7 L165.5,146.6 L153.1,151.1 L142.3,152.8 L133.5,154 L124.6,152.8 L116.7,151.4 L112,150.5 L106.1,145.4 L100.2,140.1 L94.2,133.6 L89.4,127.1 L85.8,114.6 L84.1,108.4 L83.4,100.4Z" fill="#febf3d"/>
<path d="M85.2,96 L88.3,89 L94.7,77.6 L101,70 L106.8,64.9 L116,58.2 L125.1,54.8 L132.2,54 L143.7,54.1 L155.7,55.4 L167.7,57.2 L175.3,57.8 L186.7,60.9 L198.1,66.6 L205.6,72.3 L210.7,77.4 L214.5,84.3 L216.3,92 L216.3,100.4 L215.5,102.8 L213.3,108.6 L208.2,115.6 L202.5,122.5 L191.7,130.1 L186.7,132.7 L180.3,136.4 L173.7,140.6 L165.1,145.4 L153,149.7 L142.5,151.4 L133.9,152.6 L125.2,151.4 L117.6,150 L113,149.2 L107.2,144.2 L101.5,139 L95.7,132.7 L91,126.4 L87.5,114.2 L85.8,108.2 L85.2,100.4Z" fill="#fec03c"/>
<path d="M87,96.2 L90,89.3 L96.2,78.2 L102.3,70.9 L108,65.9 L116.9,59.4 L125.8,56.1 L132.7,55.3 L143.9,55.4 L155.5,56.7 L167.2,58.4 L174.6,59 L185.6,62 L196.7,67.6 L204.1,73.1 L209,78 L212.7,84.8 L214.5,92.2 L214.5,100.4 L213.7,102.8 L211.5,108.4 L206.6,115.2 L201,121.9 L190.5,129.3 L185.6,131.8 L179.5,135.4 L173,139.5 L164.6,144.2 L152.9,148.4 L142.7,150 L134.3,151.2 L125.9,150 L118.5,148.7 L114,147.8 L108.4,143 L102.8,138 L97.2,131.8 L92.6,125.7 L89.2,113.8 L87.6,108 L87,100.4Z" fill="#fec03a"/>
<path d="M88.8,96.3 L91.7,89.7 L97.7,78.9 L103.7,71.8 L109.2,66.9 L117.9,60.5 L126.5,57.4 L133.2,56.6 L144,56.7 L155.4,57.9 L166.7,59.6 L173.8,60.2 L184.6,63.1 L195.4,68.5 L202.5,73.9 L207.3,78.7 L210.9,85.2 L212.6,92.5 L212.6,100.4 L211.9,102.7 L209.7,108.2 L204.9,114.8 L199.6,121.3 L189.4,128.5 L184.6,130.9 L178.6,134.4 L172.4,138.4 L164.2,142.9 L152.8,147 L142.9,148.6 L134.7,149.7 L126.6,148.6 L119.4,147.3 L115,146.5 L109.6,141.8 L104.1,136.9 L98.7,130.9 L94.2,125 L90.9,113.5 L89.3,107.8 L88.8,100.4Z" fill="#fec139"/>
<path d="M90.6,96.4 L93.4,90 L99.2,79.5 L105,72.6 L110.4,67.9 L118.8,61.7 L127.1,58.6 L133.6,57.9 L144.2,58 L155.2,59.2 L166.2,60.8 L173.1,61.4 L183.6,64.3 L194,69.5 L200.9,74.7 L205.6,79.3 L209.1,85.7 L210.7,92.8 L210.7,100.5 L210,102.7 L207.9,108 L203.3,114.4 L198.1,120.7 L188.2,127.7 L183.6,130 L177.7,133.4 L171.7,137.3 L163.8,141.7 L152.7,145.7 L143.1,147.2 L135.2,148.3 L127.2,147.2 L120.3,145.9 L116,145.2 L110.7,140.6 L105.5,135.9 L100.2,130 L95.8,124.3 L92.7,113.1 L91.1,107.6 L90.6,100.5Z" fill="#ffc238"/>
<path d="M92.3,96.6 L95.1,90.3 L100.8,80.2 L106.4,73.5 L111.5,68.9 L119.7,62.9 L127.8,59.9 L134.1,59.2 L144.3,59.3 L155,60.5 L165.7,62.1 L172.4,62.6 L182.5,65.4 L192.7,70.4 L199.4,75.5 L203.9,80 L207.3,86.2 L208.9,93 L208.9,100.5 L208.2,102.6 L206.2,107.8 L201.7,114 L196.6,120.1 L187,126.9 L182.5,129.2 L176.9,132.5 L171,136.2 L163.3,140.5 L152.6,144.3 L143.3,145.8 L135.6,146.9 L127.9,145.8 L121.1,144.6 L117,143.8 L111.9,139.4 L106.8,134.8 L101.7,129.2 L97.5,123.6 L94.4,112.7 L92.9,107.4 L92.3,100.5Z" fill="#ffc337"/>
<path d="M94.1,96.7 L96.8,90.7 L102.3,80.8 L107.7,74.3 L112.7,69.9 L120.6,64.1 L128.5,61.2 L134.6,60.5 L144.5,60.6 L154.8,61.7 L165.2,63.3 L171.7,63.8 L181.5,66.5 L191.3,71.4 L197.8,76.3 L202.2,80.6 L205.5,86.6 L207,93.2 L207,100.5 L206.3,102.5 L204.4,107.6 L200,113.6 L195.1,119.5 L185.8,126.1 L181.5,128.3 L176,131.5 L170.3,135.1 L162.9,139.2 L152.5,143 L143.5,144.4 L136,145.4 L128.6,144.4 L122,143.2 L118,142.5 L113.1,138.2 L108.1,133.8 L103.2,128.3 L99.1,122.9 L96.1,112.4 L94.6,107.2 L94.1,100.5Z" fill="#ffc436"/>
<path d="M95.9,96.8 L98.5,91 L103.8,81.5 L109.1,75.2 L113.9,70.9 L121.6,65.3 L129.2,62.5 L135.1,61.8 L144.7,61.9 L154.7,63 L164.7,64.5 L170.9,65 L180.4,67.6 L189.9,72.3 L196.2,77.1 L200.5,81.3 L203.7,87.1 L205.2,93.5 L205.2,100.5 L204.5,102.5 L202.6,107.3 L198.4,113.2 L193.7,119 L184.7,125.2 L180.4,127.4 L175.2,130.5 L169.7,134 L162.4,138 L152.4,141.6 L143.7,143 L136.4,144 L129.2,143 L122.9,141.8 L119.1,141.2 L114.2,137 L109.5,132.7 L104.7,127.4 L100.7,122.2 L97.8,112 L96.4,107 L95.9,100.5Z" fill="#fec535"/>
<path d="M97.7,97 L100.2,91.3 L105.3,82.2 L110.4,76.1 L115.1,71.9 L122.5,66.5 L129.8,63.8 L135.5,63.1 L144.8,63.2 L154.5,64.3 L164.1,65.7 L170.2,66.2 L179.4,68.7 L188.6,73.3 L194.7,77.9 L198.8,82 L201.8,87.6 L203.3,93.8 L203.3,100.5 L202.7,102.5 L200.8,107.1 L196.8,112.7 L192.2,118.4 L183.5,124.4 L179.4,126.5 L174.3,129.5 L169,132.9 L162,136.8 L152.2,140.2 L143.8,141.6 L136.9,142.6 L129.9,141.6 L123.8,140.5 L120.1,139.8 L115.4,135.8 L110.8,131.6 L106.1,126.5 L102.3,121.4 L99.5,111.6 L98.2,106.8 L97.7,100.5Z" fill="#fec734"/>
<path d="M99.5,97.1 L101.9,91.7 L106.8,82.8 L111.7,76.9 L116.3,72.9 L123.4,67.7 L130.5,65.1 L136,64.4 L145,64.5 L154.3,65.5 L163.6,66.9 L169.5,67.4 L178.4,69.8 L187.2,74.3 L193.1,78.7 L197.1,82.6 L200,88 L201.4,94 L201.4,100.5 L200.8,102.4 L199,106.9 L195.1,112.3 L190.7,117.8 L182.3,123.6 L178.4,125.6 L173.4,128.5 L168.3,131.8 L161.6,135.5 L152.1,138.9 L144,140.2 L137.3,141.1 L130.6,140.2 L124.7,139.1 L121.1,138.5 L116.6,134.6 L112.1,130.6 L107.6,125.6 L103.9,120.7 L101.2,111.3 L99.9,106.6 L99.5,100.5Z" fill="#fec833"/>
<path d="M101.2,97.3 L103.6,92 L108.4,83.5 L113.1,77.8 L117.4,73.9 L124.3,68.9 L131.2,66.3 L136.5,65.7 L145.1,65.8 L154.1,66.8 L163.1,68.2 L168.8,68.6 L177.3,70.9 L185.9,75.2 L191.6,79.5 L195.4,83.3 L198.2,88.5 L199.6,94.2 L199.6,100.5 L199,102.3 L197.3,106.7 L193.5,111.9 L189.2,117.2 L181.1,122.8 L177.3,124.8 L172.6,127.5 L167.6,130.7 L161.1,134.3 L152,137.5 L144.2,138.8 L137.7,139.7 L131.3,138.8 L125.5,137.8 L122.1,137.1 L117.8,133.4 L113.4,129.5 L109.1,124.8 L105.6,120 L103,110.9 L101.7,106.4 L101.2,100.5Z" fill="#fec932"/>
<path d="M103,97.4 L105.3,92.3 L109.9,84.1 L114.4,78.6 L118.6,74.9 L125.2,70.1 L131.8,67.6 L137,67 L145.3,67.1 L153.9,68.1 L162.6,69.4 L168.1,69.8 L176.3,72.1 L184.5,76.2 L190,80.3 L193.7,83.9 L196.4,89 L197.7,94.5 L197.7,100.6 L197.1,102.3 L195.5,106.5 L191.9,111.5 L187.7,116.6 L179.9,122 L176.3,123.9 L171.7,126.6 L166.9,129.6 L160.7,133.1 L151.9,136.2 L144.4,137.4 L138.2,138.3 L131.9,137.4 L126.4,136.4 L123.1,135.8 L118.9,132.2 L114.8,128.5 L110.6,123.9 L107.2,119.3 L104.7,110.5 L103.5,106.2 L103,100.6Z" fill="#fdca31"/>
<path d="M104.8,97.5 L107,92.7 L111.4,84.8 L115.8,79.5 L119.8,75.9 L126.2,71.2 L132.5,68.9 L137.4,68.3 L145.4,68.4 L153.8,69.3 L162.1,70.6 L167.3,71 L175.3,73.2 L183.2,77.1 L188.4,81.1 L192,84.6 L194.6,89.4 L195.8,94.8 L195.8,100.6 L195.3,102.2 L193.7,106.3 L190.2,111.1 L186.3,116 L178.8,121.2 L175.3,123 L170.8,125.6 L166.3,128.5 L160.3,131.8 L151.8,134.8 L144.6,136 L138.6,136.8 L132.6,136 L127.3,135 L124.1,134.5 L120.1,131 L116.1,127.4 L112.1,123 L108.8,118.6 L106.4,110.2 L105.2,106 L104.8,100.6Z" fill="#fdcb30"/>
<path d="M106.6,97.7 L108.7,93 L112.9,85.4 L117.1,80.4 L121,76.9 L127.1,72.4 L133.2,70.2 L137.9,69.6 L145.6,69.7 L153.6,70.6 L161.6,71.8 L166.6,72.2 L174.2,74.3 L181.8,78.1 L186.9,81.9 L190.3,85.2 L192.8,89.9 L194,95 L194,100.6 L193.5,102.2 L191.9,106.1 L188.6,110.7 L184.8,115.4 L177.6,120.4 L174.2,122.1 L170,124.6 L165.6,127.4 L159.8,130.6 L151.7,133.5 L144.8,134.6 L139,135.4 L133.3,134.6 L128.2,133.7 L125.1,133.1 L121.3,129.8 L117.4,126.4 L113.6,122.1 L110.4,117.9 L108.1,109.8 L107,105.8 L106.6,100.6Z" fill="#fccc2f"/>
<path d="M108.4,97.8 L110.4,93.3 L114.4,86 L118.4,81.2 L122.2,77.9 L128,73.6 L133.9,71.5 L138.4,70.9 L145.7,71 L153.4,71.9 L161.1,73 L165.9,73.4 L173.2,75.4 L180.5,79 L185.3,82.7 L188.6,85.9 L191,90.3 L192.1,95.2 L192.1,100.6 L191.6,102.2 L190.2,105.9 L186.9,110.3 L183.3,114.8 L176.4,119.6 L173.2,121.2 L169.1,123.6 L164.9,126.3 L159.4,129.4 L151.6,132.1 L145,133.2 L139.4,134 L133.9,133.2 L129.1,132.3 L126.1,131.8 L122.4,128.6 L118.7,125.3 L115.1,121.2 L112,117.2 L109.8,109.4 L108.7,105.6 L108.4,100.6Z" fill="#fccd2e"/>
<path d="M110.1,98 L112,93.7 L115.9,86.7 L119.8,82.1 L123.3,78.9 L128.9,74.8 L134.5,72.8 L138.8,72.3 L145.9,72.3 L153.2,73.1 L160.6,74.2 L165.2,74.6 L172.1,76.5 L179.1,80 L183.7,83.5 L186.8,86.6 L189.2,90.8 L190.3,95.5 L190.3,100.6 L189.8,102.1 L188.4,105.7 L185.3,109.9 L181.8,114.2 L175.2,118.8 L172.1,120.4 L168.3,122.6 L164.2,125.2 L158.9,128.1 L151.5,130.8 L145.2,131.8 L139.9,132.5 L134.6,131.8 L129.9,131 L127.1,130.4 L123.6,127.4 L120.1,124.2 L116.6,120.4 L113.7,116.5 L111.5,109.1 L110.5,105.4 L110.1,100.6Z" fill="#fbcf2d"/>
<path d="M111.9,98.1 L113.7,94 L117.5,87.3 L121.1,82.9 L124.5,79.9 L129.9,76 L135.2,74 L139.3,73.6 L146,73.6 L153,74.4 L160,75.5 L164.5,75.8 L171.1,77.6 L177.8,80.9 L182.2,84.3 L185.1,87.2 L187.3,91.3 L188.4,95.8 L188.4,100.7 L187.9,102 L186.6,105.4 L183.7,109.5 L180.3,113.6 L174,118 L171.1,119.5 L167.4,121.7 L163.5,124.1 L158.5,126.9 L151.4,129.4 L145.3,130.4 L140.3,131.1 L135.3,130.4 L130.8,129.6 L128.1,129.1 L124.8,126.2 L121.4,123.2 L118,119.5 L115.3,115.8 L113.2,108.7 L112.3,105.2 L111.9,100.7Z" fill="#fbd02c"/>
<path d="M113.7,98.2 L115.4,94.3 L119,88 L122.5,83.8 L125.7,80.9 L130.8,77.2 L135.9,75.3 L139.8,74.9 L146.2,74.9 L152.9,75.7 L159.5,76.7 L163.7,77 L170.1,78.7 L176.4,81.9 L180.6,85.1 L183.4,87.9 L185.5,91.7 L186.5,96 L186.5,100.7 L186.1,102 L184.8,105.2 L182,109.1 L178.9,113 L172.9,117.2 L170.1,118.6 L166.5,120.7 L162.9,123 L158.1,125.7 L151.3,128.1 L145.5,129 L140.7,129.7 L135.9,129 L131.7,128.2 L129.1,127.8 L125.9,125 L122.7,122.1 L119.5,118.6 L116.9,115.1 L115,108.3 L114,105 L113.7,100.7Z" fill="#fad12b"/>
<path d="M115.5,98.4 L117.1,94.7 L120.5,88.7 L123.8,84.7 L126.9,81.9 L131.7,78.4 L136.5,76.6 L140.3,76.2 L146.4,76.2 L152.7,76.9 L159,77.9 L163,78.2 L169,79.8 L175,82.9 L179,85.9 L181.7,88.5 L183.7,92.2 L184.7,96.2 L184.7,100.7 L184.3,102 L183.1,105 L180.4,108.7 L177.4,112.4 L171.7,116.4 L169,117.7 L165.7,119.7 L162.2,121.9 L157.6,124.4 L151.2,126.7 L145.7,127.6 L141.2,128.2 L136.6,127.6 L132.6,126.9 L130.1,126.4 L127.1,123.8 L124.1,121.1 L121,117.7 L118.5,114.4 L116.7,108 L115.8,104.8 L115.5,100.7Z" fill="#fad32a"/>
<path d="M117.3,98.5 L118.8,95 L122,89.3 L125.2,85.5 L128.1,82.9 L132.7,79.6 L137.2,77.9 L140.8,77.5 L146.5,77.5 L152.5,78.2 L158.5,79.1 L162.3,79.4 L168,81 L173.7,83.8 L177.5,86.7 L180,89.2 L181.9,92.7 L182.8,96.5 L182.8,100.7 L182.4,101.9 L181.3,104.8 L178.8,108.3 L175.9,111.8 L170.5,115.5 L168,116.8 L164.8,118.7 L161.5,120.8 L157.2,123.2 L151.1,125.4 L145.9,126.2 L141.6,126.8 L137.3,126.2 L133.5,125.5 L131.2,125.1 L128.3,122.6 L125.4,120 L122.5,116.8 L120.1,113.7 L118.4,107.6 L117.6,104.6 L117.3,100.7Z" fill="#f9d429"/>
<path d="M119,98.6 L120.5,95.3 L123.5,90 L126.5,86.4 L129.2,83.9 L133.6,80.8 L137.9,79.2 L141.2,78.8 L146.7,78.8 L152.3,79.5 L158,80.3 L161.6,80.6 L167,82.1 L172.3,84.8 L175.9,87.5 L178.3,89.8 L180.1,93.1 L180.9,96.8 L180.9,100.7 L180.6,101.8 L179.5,104.6 L177.1,107.9 L174.4,111.2 L169.3,114.7 L167,116 L163.9,117.7 L160.8,119.7 L156.8,122 L151,124 L146.1,124.8 L142,125.4 L137.9,124.8 L134.3,124.1 L132.2,123.8 L129.4,121.4 L126.7,119 L124,116 L121.8,113 L120.1,107.2 L119.3,104.4 L119,100.7Z" fill="#f8d628"/>
<path d="M120.8,98.8 L122.2,95.7 L125,90.6 L127.8,87.2 L130.4,84.9 L134.5,82 L138.6,80.5 L141.7,80.1 L146.8,80.1 L152.2,80.7 L157.5,81.5 L160.8,81.8 L165.9,83.2 L171,85.7 L174.3,88.3 L176.6,90.5 L178.3,93.6 L179.1,97 L179.1,100.7 L178.7,101.8 L177.7,104.4 L175.5,107.5 L173,110.6 L168.2,113.9 L165.9,115.1 L163.1,116.7 L160.2,118.6 L156.3,120.7 L150.9,122.7 L146.3,123.4 L142.4,123.9 L138.6,123.4 L135.2,122.8 L133.2,122.4 L130.6,120.2 L128,117.9 L125.5,115.1 L123.4,112.3 L121.8,106.9 L121.1,104.2 L120.8,100.7Z" fill="#f8d727"/>
<path d="M122.6,98.9 L123.9,96 L126.6,91.2 L129.2,88.1 L131.6,86 L135.4,83.2 L139.2,81.8 L142.2,81.4 L147,81.5 L152,82 L157,82.8 L160.1,83 L164.9,84.3 L169.6,86.7 L172.8,89 L174.9,91.2 L176.5,94 L177.2,97.2 L177.2,100.8 L176.9,101.8 L176,104.2 L173.9,107.1 L171.5,110 L167,113.1 L164.9,114.2 L162.2,115.8 L159.5,117.5 L155.9,119.5 L150.8,121.3 L146.5,122 L142.9,122.5 L139.3,122 L136.1,121.4 L134.2,121.1 L131.8,119 L129.4,116.8 L127,114.2 L125,111.6 L123.6,106.5 L122.9,104 L122.6,100.8Z" fill="#f7d826"/>
<path d="M124.4,99.1 L125.6,96.3 L128.1,91.9 L130.5,89 L132.8,87 L136.4,84.3 L139.9,83 L142.7,82.7 L147.1,82.8 L151.8,83.3 L156.5,84 L159.4,84.2 L163.8,85.4 L168.3,87.6 L171.2,89.8 L173.2,91.8 L174.7,94.5 L175.4,97.5 L175.4,100.8 L175.1,101.7 L174.2,104 L172.2,106.7 L170,109.4 L165.8,112.3 L163.8,113.3 L161.4,114.8 L158.8,116.4 L155.4,118.3 L150.7,119.9 L146.7,120.6 L143.3,121.1 L139.9,120.6 L137,120.1 L135.2,119.7 L132.9,117.8 L130.7,115.8 L128.5,113.3 L126.6,110.9 L125.3,106.1 L124.6,103.8 L124.4,100.8Z" fill="#f7da25"/>
<path d="M126.2,99.2 L127.3,96.7 L129.6,92.5 L131.9,89.8 L134,88 L137.3,85.5 L140.6,84.3 L143.1,84 L147.3,84.1 L151.6,84.5 L156,85.2 L158.7,85.4 L162.8,86.5 L166.9,88.6 L169.6,90.6 L171.5,92.5 L172.9,95 L173.5,97.8 L173.5,100.8 L173.2,101.7 L172.4,103.8 L170.6,106.3 L168.5,108.8 L164.6,111.5 L162.8,112.4 L160.5,113.8 L158.1,115.3 L155,117 L150.6,118.6 L146.9,119.2 L143.7,119.6 L140.6,119.2 L137.9,118.7 L136.2,118.4 L134.1,116.6 L132,114.7 L130,112.4 L128.2,110.2 L127,105.8 L126.4,103.6 L126.2,100.8Z" fill="#f6db23"/>
<path d="M127.9,99.3 L129,97 L131.1,93.2 L133.2,90.7 L135.1,89 L138.2,86.7 L141.2,85.6 L143.6,85.3 L147.4,85.4 L151.4,85.8 L155.4,86.4 L158,86.6 L161.8,87.6 L165.6,89.5 L168.1,91.4 L169.8,93.1 L171,95.4 L171.6,98 L171.6,100.8 L171.4,101.6 L170.6,103.5 L168.9,105.9 L167,108.2 L163.4,110.7 L161.8,111.6 L159.6,112.8 L157.4,114.2 L154.6,115.8 L150.5,117.2 L147,117.8 L144.2,118.2 L141.3,117.8 L138.7,117.3 L137.2,117.1 L135.3,115.4 L133.4,113.7 L131.4,111.6 L129.9,109.5 L128.7,105.4 L128.1,103.4 L127.9,100.8Z" fill="#f6dd22"/>
<path d="M129.7,99.5 L130.7,97.3 L132.6,93.8 L134.5,91.5 L136.3,90 L139.1,87.9 L141.9,86.9 L144.1,86.6 L147.6,86.7 L151.3,87.1 L154.9,87.6 L157.2,87.8 L160.7,88.8 L164.2,90.5 L166.5,92.2 L168.1,93.8 L169.2,95.9 L169.8,98.2 L169.8,100.8 L169.5,101.5 L168.8,103.3 L167.3,105.5 L165.6,107.6 L162.3,109.9 L160.7,110.7 L158.8,111.8 L156.8,113.1 L154.1,114.6 L150.4,115.9 L147.2,116.4 L144.6,116.8 L141.9,116.4 L139.6,116 L138.2,115.7 L136.4,114.2 L134.7,112.6 L132.9,110.7 L131.5,108.8 L130.4,105 L129.9,103.2 L129.7,100.8Z" fill="#f5df21"/>
<path d="M131.5,99.6 L132.4,97.7 L134.1,94.5 L135.9,92.4 L137.5,91 L140.1,89.1 L142.6,88.2 L144.6,87.9 L147.8,88 L151.1,88.3 L154.4,88.8 L156.5,89 L159.7,89.9 L162.8,91.5 L165,93 L166.4,94.4 L167.4,96.4 L167.9,98.5 L167.9,100.8 L167.7,101.5 L167.1,103.1 L165.7,105 L164.1,107 L161.1,109.1 L159.7,109.8 L157.9,110.8 L156.1,112 L153.7,113.3 L150.3,114.5 L147.4,115 L145,115.3 L142.6,115 L140.5,114.6 L139.2,114.4 L137.6,113 L136,111.6 L134.4,109.8 L133.1,108 L132.1,104.7 L131.7,103 L131.5,100.8Z" fill="#f5e11f"/>
<path d="M133.3,99.8 L134.1,98 L135.7,95.2 L137.2,93.3 L138.7,92 L141,90.3 L143.3,89.5 L145,89.2 L147.9,89.3 L150.9,89.6 L153.9,90 L155.8,90.2 L158.6,91 L161.5,92.4 L163.4,93.8 L164.7,95.1 L165.6,96.8 L166.1,98.8 L166.1,100.8 L165.9,101.5 L165.3,102.9 L164,104.6 L162.6,106.4 L159.9,108.3 L158.6,108.9 L157.1,109.8 L155.4,110.9 L153.2,112.1 L150.2,113.2 L147.6,113.6 L145.4,113.9 L143.3,113.6 L141.4,113.3 L140.2,113 L138.8,111.8 L137.3,110.5 L135.9,108.9 L134.7,107.3 L133.8,104.3 L133.4,102.8 L133.3,100.8Z" fill="#f5e31e"/>
<path d="M135.1,99.9 L135.8,98.3 L137.2,95.8 L138.6,94.1 L139.9,93 L141.9,91.5 L143.9,90.7 L145.5,90.5 L148.1,90.6 L150.7,90.9 L153.4,91.3 L155.1,91.4 L157.6,92.1 L160.1,93.4 L161.8,94.6 L163,95.7 L163.8,97.3 L164.2,99 L164.2,100.9 L164,101.4 L163.5,102.7 L162.4,104.2 L161.1,105.8 L158.7,107.5 L157.6,108 L156.2,108.9 L154.7,109.8 L152.8,110.9 L150.1,111.8 L147.8,112.2 L145.9,112.5 L144,112.2 L142.3,111.9 L141.2,111.7 L140,110.6 L138.7,109.5 L137.4,108 L136.3,106.6 L135.6,103.9 L135.2,102.6 L135.1,100.9Z" fill="#f5e51c"/>
<path d="M136.8,100 L137.4,98.7 L138.7,96.5 L139.9,95 L141,94 L142.8,92.7 L144.6,92 L146,91.9 L148.2,91.9 L150.5,92.1 L152.9,92.5 L154.4,92.6 L156.6,93.2 L158.8,94.3 L160.3,95.4 L161.2,96.4 L162,97.8 L162.3,99.2 L162.3,100.9 L162.2,101.3 L161.7,102.5 L160.8,103.8 L159.6,105.2 L157.5,106.7 L156.6,107.2 L155.3,107.9 L154,108.7 L152.4,109.6 L150,110.5 L148,110.8 L146.3,111 L144.6,110.8 L143.1,110.5 L142.2,110.4 L141.1,109.4 L140,108.4 L138.9,107.2 L138,105.9 L137.3,103.6 L137,102.4 L136.8,100.9Z" fill="#f5e71b"/>
<path d="M138.6,100.2 L139.1,99 L140.2,97.1 L141.2,95.8 L142.2,95 L143.8,93.9 L145.3,93.3 L146.5,93.2 L148.4,93.2 L150.4,93.4 L152.4,93.7 L153.6,93.8 L155.5,94.3 L157.4,95.3 L158.7,96.2 L159.5,97.1 L160.2,98.2 L160.5,99.5 L160.5,100.9 L160.3,101.3 L160,102.3 L159.1,103.4 L158.2,104.6 L156.4,105.8 L155.5,106.3 L154.5,106.9 L153.4,107.6 L151.9,108.4 L149.9,109.1 L148.2,109.4 L146.7,109.6 L145.3,109.4 L144,109.2 L143.2,109 L142.3,108.2 L141.3,107.3 L140.4,106.3 L139.6,105.2 L139,103.2 L138.7,102.2 L138.6,100.9Z" fill="#f5e919"/>
<path d="M140.4,100.3 L140.8,99.3 L141.7,97.8 L142.6,96.7 L143.4,96 L144.7,95 L145.9,94.6 L146.9,94.5 L148.5,94.5 L150.2,94.7 L151.9,94.9 L152.9,95 L154.5,95.4 L156.1,96.2 L157.1,97 L157.8,97.7 L158.4,98.7 L158.6,99.8 L158.6,100.9 L158.5,101.2 L158.2,102.1 L157.5,103 L156.7,104 L155.2,105 L154.5,105.4 L153.6,105.9 L152.7,106.5 L151.5,107.2 L149.8,107.8 L148.4,108 L147.2,108.2 L146,108 L144.9,107.8 L144.3,107.7 L143.5,107 L142.7,106.3 L141.9,105.4 L141.2,104.5 L140.7,102.8 L140.5,102 L140.4,100.9Z" fill="#f5eb18"/>
<path d="M142.2,100.4 L142.5,99.7 L143.2,98.4 L143.9,97.6 L144.6,97 L145.6,96.2 L146.6,95.9 L147.4,95.8 L148.7,95.8 L150,95.9 L151.3,96.1 L152.2,96.2 L153.5,96.5 L154.7,97.2 L155.6,97.8 L156.1,98.4 L156.5,99.1 L156.7,100 L156.7,100.9 L156.7,101.2 L156.4,101.8 L155.8,102.6 L155.2,103.4 L154,104.2 L153.5,104.5 L152.7,104.9 L152,105.4 L151.1,105.9 L149.7,106.4 L148.5,106.6 L147.6,106.7 L146.6,106.6 L145.8,106.4 L145.3,106.4 L144.6,105.8 L144,105.2 L143.3,104.5 L142.8,103.8 L142.4,102.5 L142.2,101.8 L142.2,100.9Z" fill="#f5ee16"/>
<path d="M144,100.6 L144.2,100 L144.8,99 L145.3,98.4 L145.8,98 L146.5,97.4 L147.3,97.1 L147.9,97.1 L148.8,97.1 L149.8,97.2 L150.8,97.3 L151.5,97.4 L152.4,97.7 L153.4,98.1 L154,98.6 L154.4,99 L154.7,99.6 L154.9,100.2 L154.9,101 L154.8,101.2 L154.6,101.6 L154.2,102.2 L153.7,102.8 L152.8,103.4 L152.4,103.6 L151.9,104 L151.3,104.3 L150.6,104.7 L149.6,105.1 L148.7,105.2 L148,105.3 L147.3,105.2 L146.7,105.1 L146.3,105 L145.8,104.6 L145.3,104.2 L144.8,103.6 L144.4,103.1 L144.2,102.1 L144,101.6 L144,101Z" fill="#f6f114"/>
<path d="M145.7,100.7 L145.9,100.3 L146.3,99.7 L146.6,99.3 L146.9,99 L147.5,98.6 L148,98.4 L148.4,98.4 L149,98.4 L149.7,98.5 L150.3,98.6 L150.7,98.6 L151.4,98.8 L152,99.1 L152.4,99.4 L152.7,99.7 L152.9,100.1 L153,100.5 L153,101 L153,101.1 L152.9,101.4 L152.6,101.8 L152.3,102.2 L151.7,102.6 L151.4,102.8 L151,103 L150.7,103.2 L150.2,103.5 L149.5,103.7 L148.9,103.8 L148.4,103.9 L148,103.8 L147.5,103.7 L147.3,103.7 L147,103.4 L146.6,103.1 L146.3,102.8 L146.1,102.4 L145.9,101.7 L145.8,101.4 L145.7,101Z" fill="#f7f412"/>
<path d="M147.5,100.9 L147.6,100.7 L147.8,100.3 L148,100.1 L148.1,100 L148.4,99.8 L148.6,99.7 L148.8,99.7 L149.1,99.7 L149.5,99.7 L149.8,99.8 L150,99.8 L150.3,99.9 L150.7,100 L150.9,100.2 L151,100.3 L151.1,100.5 L151.2,100.8 L151.2,101 L151.1,101 L151.1,101.2 L150.9,101.4 L150.8,101.6 L150.5,101.8 L150.3,101.9 L150.2,102 L150,102.1 L149.7,102.2 L149.4,102.4 L149.1,102.4 L148.9,102.4 L148.6,102.4 L148.4,102.4 L148.3,102.3 L148.1,102.2 L148,102.1 L147.8,101.9 L147.7,101.7 L147.6,101.4 L147.5,101.2 L147.5,101Z" fill="#f8f810"/></g>
<ellipse cx="149.3" cy="101" rx="6.4" ry="6.4" fill="none" stroke="#ffe860" stroke-width="0.6" stroke-opacity="0.2"/>
<ellipse cx="149.3" cy="101" rx="12.7" ry="12.7" fill="none" stroke="#ffe860" stroke-width="0.6" stroke-opacity="0.2"/>
<ellipse cx="149.3" cy="101" rx="19" ry="19" fill="none" stroke="#ffe860" stroke-width="0.6" stroke-opacity="0.2"/>
<ellipse cx="149.3" cy="101" rx="25.1" ry="25.1" fill="none" stroke="#ffe860" stroke-width="0.6" stroke-opacity="0.2"/>
<ellipse cx="149.3" cy="101" rx="31.1" ry="31.1" fill="none" stroke="#ffe860" stroke-width="0.6" stroke-opacity="0.2"/>
<ellipse cx="149.3" cy="101" rx="36.9" ry="36.9" fill="none" stroke="#ffe860" stroke-width="0.6" stroke-opacity="0.2"/>
<ellipse cx="149.3" cy="101" rx="42.5" ry="42.5" fill="none" stroke="#ffe860" stroke-width="0.6" stroke-opacity="0.2"/>
<ellipse cx="149.3" cy="101" rx="47.8" ry="47.8" fill="none" stroke="#ffe860" stroke-width="0.6" stroke-opacity="0.2"/>
<ellipse cx="149.3" cy="101" rx="52.9" ry="52.9" fill="none" stroke="#ffe860" stroke-width="0.6" stroke-opacity="0.2"/>
<ellipse cx="149.3" cy="101" rx="57.7" ry="57.7" fill="none" stroke="#ffe860" stroke-width="0.6" stroke-opacity="0.2"/>
<ellipse cx="149.3" cy="101" rx="62.1" ry="62.1" fill="none" stroke="#ffe860" stroke-width="0.6" stroke-opacity="0.2"/>
<line x1="153.3" y1="101" x2="211.6" y2="101" stroke="#ffe860" stroke-width="0.6" stroke-opacity="0.2"/>
<line x1="153.2" y1="101.7" x2="210.6" y2="111.8" stroke="#ffe860" stroke-width="0.6" stroke-opacity="0.2"/>
<line x1="153.1" y1="102.4" x2="207.8" y2="122.3" stroke="#ffe860" stroke-width="0.6" stroke-opacity="0.2"/>
<line x1="152.8" y1="103" x2="203.2" y2="132.1" stroke="#ffe860" stroke-width="0.6" stroke-opacity="0.2"/>
<line x1="152.4" y1="103.6" x2="197" y2="141" stroke="#ffe860" stroke-width="0.6" stroke-opacity="0.2"/>
<line x1="151.9" y1="104.1" x2="189.3" y2="148.7" stroke="#ffe860" stroke-width="0.6" stroke-opacity="0.2"/>
<line x1="151.3" y1="104.5" x2="180.4" y2="154.9" stroke="#ffe860" stroke-width="0.6" stroke-opacity="0.2"/>
<line x1="150.7" y1="104.8" x2="170.6" y2="159.5" stroke="#ffe860" stroke-width="0.6" stroke-opacity="0.2"/>
<line x1="150" y1="104.9" x2="160.1" y2="162.3" stroke="#ffe860" stroke-width="0.6" stroke-opacity="0.2"/>
<line x1="149.3" y1="105" x2="149.3" y2="163.2" stroke="#ffe860" stroke-width="0.6" stroke-opacity="0.2"/>
<line x1="148.6" y1="104.9" x2="138.5" y2="162.3" stroke="#ffe860" stroke-width="0.6" stroke-opacity="0.2"/>
<line x1="147.9" y1="104.8" x2="128" y2="159.5" stroke="#ffe860" stroke-width="0.6" stroke-opacity="0.2"/>
<line x1="147.3" y1="104.5" x2="118.2" y2="154.9" stroke="#ffe860" stroke-width="0.6" stroke-opacity="0.2"/>
<line x1="146.7" y1="104.1" x2="109.3" y2="148.7" stroke="#ffe860" stroke-width="0.6" stroke-opacity="0.2"/>
<line x1="146.2" y1="103.6" x2="101.6" y2="141" stroke="#ffe860" stroke-width="0.6" stroke-opacity="0.2"/>
<line x1="145.8" y1="103" x2="95.4" y2="132.1" stroke="#ffe860" stroke-width="0.6" stroke-opacity="0.2"/>
<line x1="145.5" y1="102.4" x2="90.8" y2="122.3" stroke="#ffe860" stroke-width="0.6" stroke-opacity="0.2"/>
<line x1="145.4" y1="101.7" x2="88" y2="111.8" stroke="#ffe860" stroke-width="0.6" stroke-opacity="0.2"/>
<line x1="145.3" y1="101" x2="87.1" y2="101" stroke="#ffe860" stroke-width="0.6" stroke-opacity="0.2"/>
<line x1="145.4" y1="100.3" x2="88" y2="90.2" stroke="#ffe860" stroke-width="0.6" stroke-opacity="0.2"/>
<line x1="145.5" y1="99.6" x2="90.8" y2="79.7" stroke="#ffe860" stroke-width="0.6" stroke-opacity="0.2"/>
<line x1="145.8" y1="99" x2="95.4" y2="69.9" stroke="#ffe860" stroke-width="0.6" stroke-opacity="0.2"/>
<line x1="146.2" y1="98.4" x2="101.6" y2="61" stroke="#ffe860" stroke-width="0.6" stroke-opacity="0.2"/>
<line x1="146.7" y1="97.9" x2="109.3" y2="53.3" stroke="#ffe860" stroke-width="0.6" stroke-opacity="0.2"/>
<line x1="147.3" y1="97.5" x2="118.2" y2="47.1" stroke="#ffe860" stroke-width="0.6" stroke-opacity="0.2"/>
<line x1="147.9" y1="97.2" x2="128" y2="42.5" stroke="#ffe860" stroke-width="0.6" stroke-opacity="0.2"/>
<line x1="148.6" y1="97.1" x2="138.5" y2="39.7" stroke="#ffe860" stroke-width="0.6" stroke-opacity="0.2"/>
<line x1="149.3" y1="97" x2="149.3" y2="38.8" stroke="#ffe860" stroke-width="0.6" stroke-opacity="0.2"/>
<line x1="150" y1="97.1" x2="160.1" y2="39.7" stroke="#ffe860" stroke-width="0.6" stroke-opacity="0.2"/>
<line x1="150.7" y1="97.2" x2="170.6" y2="42.5" stroke="#ffe860" stroke-width="0.6" stroke-opacity="0.2"/>
<line x1="151.3" y1="97.5" x2="180.4" y2="47.1" stroke="#ffe860" stroke-width="0.6" stroke-opacity="0.2"/>
<line x1="151.9" y1="97.9" x2="189.3" y2="53.3" stroke="#ffe860" stroke-width="0.6" stroke-opacity="0.2"/>
<line x1="152.4" y1="98.4" x2="197" y2="61" stroke="#ffe860" stroke-width="0.6" stroke-opacity="0.2"/>
<line x1="152.8" y1="99" x2="203.2" y2="69.9" stroke="#ffe860" stroke-width="0.6" stroke-opacity="0.2"/>
<line x1="153.1" y1="99.6" x2="207.8" y2="79.7" stroke="#ffe860" stroke-width="0.6" stroke-opacity="0.2"/>
<line x1="153.2" y1="100.3" x2="210.6" y2="90.2" stroke="#ffe860" stroke-width="0.6" stroke-opacity="0.2"/>
<g clip-path="url(#clipA)"><path d="M42.5,92.7 L47.7,81 L58.3,62 L68.8,49.4 L78.5,40.8 L93.8,29.6 L109,24 L120.8,22.6 L140,22.8 L160,25 L180,28 L192.6,29 L211.6,34.2 L230.6,43.7 L243.2,53.2 L251.7,61.6 L258,73.2 L261,86 L261,100 L259.7,104 L255.9,113.7 L247.5,125.3 L238,136.9 L220,149.5 L211.6,153.8 L201,160 L190,167 L175.6,175 L155.4,182.2 L138,185 L123.6,187 L109.2,185 L96.5,182.7 L88.8,181.3 L79.2,173 L69.6,164.4 L60,153.8 L52.1,143.3 L46.3,123 L43.5,113 L42.5,100Z" fill="none" stroke="#1e9f98" stroke-width="1" stroke-opacity="0.6"/></g>
<path d="M42.5,17.5 V187.3 H260" fill="none" stroke="#8a8a8a" stroke-width="1"/>
<line x1="42.5" y1="27.6" x2="45" y2="27.6" stroke="#8a8a8a" stroke-width="1"/>
<line x1="42.5" y1="45.9" x2="45" y2="45.9" stroke="#8a8a8a" stroke-width="1"/>
<line x1="42.5" y1="64.3" x2="45" y2="64.3" stroke="#8a8a8a" stroke-width="1"/>
<line x1="42.5" y1="82.6" x2="45" y2="82.6" stroke="#8a8a8a" stroke-width="1"/>
<line x1="42.5" y1="101" x2="45" y2="101" stroke="#8a8a8a" stroke-width="1"/>
<line x1="42.5" y1="119.3" x2="45" y2="119.3" stroke="#8a8a8a" stroke-width="1"/>
<line x1="42.5" y1="137.6" x2="45" y2="137.6" stroke="#8a8a8a" stroke-width="1"/>
<line x1="42.5" y1="156" x2="45" y2="156" stroke="#8a8a8a" stroke-width="1"/>
<line x1="42.5" y1="174.3" x2="45" y2="174.3" stroke="#8a8a8a" stroke-width="1"/>
<line x1="57.7" y1="187.3" x2="57.7" y2="184.8" stroke="#8a8a8a" stroke-width="1"/>
<line x1="103.5" y1="187.3" x2="103.5" y2="184.8" stroke="#8a8a8a" stroke-width="1"/>
<line x1="149.3" y1="187.3" x2="149.3" y2="184.8" stroke="#8a8a8a" stroke-width="1"/>
<line x1="194.9" y1="187.3" x2="194.9" y2="184.8" stroke="#8a8a8a" stroke-width="1"/>
<line x1="240.7" y1="187.3" x2="240.7" y2="184.8" stroke="#8a8a8a" stroke-width="1"/>
<line x1="328.6" y1="17.5" x2="328.6" y2="185.8" stroke="#e4e4ec" stroke-width="1" stroke-dasharray="2 1.5"/>
<line x1="358.5" y1="17.5" x2="358.5" y2="185.8" stroke="#e4e4ec" stroke-width="1" stroke-dasharray="2 1.5"/>
<line x1="388.4" y1="17.5" x2="388.4" y2="185.8" stroke="#e4e4ec" stroke-width="1" stroke-dasharray="2 1.5"/>
<line x1="418.3" y1="17.5" x2="418.3" y2="185.8" stroke="#e4e4ec" stroke-width="1" stroke-dasharray="2 1.5"/>
<line x1="448.2" y1="17.5" x2="448.2" y2="185.8" stroke="#e4e4ec" stroke-width="1" stroke-dasharray="2 1.5"/>
<line x1="478.1" y1="17.5" x2="478.1" y2="185.8" stroke="#e4e4ec" stroke-width="1" stroke-dasharray="2 1.5"/>
<line x1="508" y1="17.5" x2="508" y2="185.8" stroke="#e4e4ec" stroke-width="1" stroke-dasharray="2 1.5"/>
<line x1="317" y1="25.3" x2="515.5" y2="25.3" stroke="#e4e4ec" stroke-width="1" stroke-dasharray="2 1.5"/>
<line x1="317" y1="40.3" x2="515.5" y2="40.3" stroke="#e4e4ec" stroke-width="1" stroke-dasharray="2 1.5"/>
<line x1="317" y1="55.3" x2="515.5" y2="55.3" stroke="#e4e4ec" stroke-width="1" stroke-dasharray="2 1.5"/>
<line x1="317" y1="70.3" x2="515.5" y2="70.3" stroke="#e4e4ec" stroke-width="1" stroke-dasharray="2 1.5"/>
<line x1="317" y1="85.3" x2="515.5" y2="85.3" stroke="#e4e4ec" stroke-width="1" stroke-dasharray="2 1.5"/>
<line x1="317" y1="100.3" x2="515.5" y2="100.3" stroke="#e4e4ec" stroke-width="1" stroke-dasharray="2 1.5"/>
<line x1="317" y1="115.3" x2="515.5" y2="115.3" stroke="#e4e4ec" stroke-width="1" stroke-dasharray="2 1.5"/>
<line x1="317" y1="130.3" x2="515.5" y2="130.3" stroke="#e4e4ec" stroke-width="1" stroke-dasharray="2 1.5"/>
<line x1="317" y1="145.3" x2="515.5" y2="145.3" stroke="#e4e4ec" stroke-width="1" stroke-dasharray="2 1.5"/>
<line x1="317" y1="160.3" x2="515.5" y2="160.3" stroke="#e4e4ec" stroke-width="1" stroke-dasharray="2 1.5"/>
<line x1="317" y1="175.3" x2="515.5" y2="175.3" stroke="#e4e4ec" stroke-width="1" stroke-dasharray="2 1.5"/>
<ellipse cx="418.2" cy="100.3" rx="81.8" ry="81.8" fill="none" stroke="#a4d6bf" stroke-width="0.7" stroke-opacity="1.0"/>
<ellipse cx="418.2" cy="100.3" rx="80.1" ry="80.1" fill="none" stroke="#a4d6bf" stroke-width="0.7" stroke-opacity="1.0"/>
<ellipse cx="418.2" cy="100.3" rx="78" ry="78" fill="none" stroke="#a4d6bf" stroke-width="0.7" stroke-opacity="1.0"/>
<ellipse cx="418.2" cy="100.3" rx="75.5" ry="75.5" fill="none" stroke="#a4d6bf" stroke-width="0.7" stroke-opacity="1.0"/>
<ellipse cx="418.2" cy="100.3" rx="72.2" ry="72.2" fill="none" stroke="#a4d6bf" stroke-width="0.7" stroke-opacity="1.0"/>
<ellipse cx="418.2" cy="100.3" rx="68.1" ry="68.1" fill="none" stroke="#a4d6bf" stroke-width="0.7" stroke-opacity="1.0"/>
<line x1="484.6" y1="100.3" x2="501.2" y2="100.3" stroke="#a4d6bf" stroke-width="0.6" stroke-opacity="1.0"/>
<line x1="482.3" y1="117.5" x2="498.4" y2="121.8" stroke="#a4d6bf" stroke-width="0.6" stroke-opacity="1.0"/>
<line x1="475.7" y1="133.5" x2="490.1" y2="141.8" stroke="#a4d6bf" stroke-width="0.6" stroke-opacity="1.0"/>
<line x1="465.2" y1="147.3" x2="476.9" y2="159" stroke="#a4d6bf" stroke-width="0.6" stroke-opacity="1.0"/>
<line x1="451.4" y1="157.8" x2="459.7" y2="172.2" stroke="#a4d6bf" stroke-width="0.6" stroke-opacity="1.0"/>
<line x1="435.4" y1="164.4" x2="439.7" y2="180.5" stroke="#a4d6bf" stroke-width="0.6" stroke-opacity="1.0"/>
<line x1="418.2" y1="166.7" x2="418.2" y2="183.3" stroke="#a4d6bf" stroke-width="0.6" stroke-opacity="1.0"/>
<line x1="401" y1="164.4" x2="396.7" y2="180.5" stroke="#a4d6bf" stroke-width="0.6" stroke-opacity="1.0"/>
<line x1="385" y1="157.8" x2="376.7" y2="172.2" stroke="#a4d6bf" stroke-width="0.6" stroke-opacity="1.0"/>
<line x1="371.2" y1="147.3" x2="359.5" y2="159" stroke="#a4d6bf" stroke-width="0.6" stroke-opacity="1.0"/>
<line x1="360.7" y1="133.5" x2="346.3" y2="141.8" stroke="#a4d6bf" stroke-width="0.6" stroke-opacity="1.0"/>
<line x1="354.1" y1="117.5" x2="338" y2="121.8" stroke="#a4d6bf" stroke-width="0.6" stroke-opacity="1.0"/>
<line x1="351.8" y1="100.3" x2="335.2" y2="100.3" stroke="#a4d6bf" stroke-width="0.6" stroke-opacity="1.0"/>
<line x1="354.1" y1="83.1" x2="338" y2="78.8" stroke="#a4d6bf" stroke-width="0.6" stroke-opacity="1.0"/>
<line x1="360.7" y1="67.1" x2="346.3" y2="58.8" stroke="#a4d6bf" stroke-width="0.6" stroke-opacity="1.0"/>
<line x1="371.2" y1="53.3" x2="359.5" y2="41.6" stroke="#a4d6bf" stroke-width="0.6" stroke-opacity="1.0"/>
<line x1="385" y1="42.8" x2="376.7" y2="28.4" stroke="#a4d6bf" stroke-width="0.6" stroke-opacity="1.0"/>
<line x1="401" y1="36.2" x2="396.7" y2="20.1" stroke="#a4d6bf" stroke-width="0.6" stroke-opacity="1.0"/>
<line x1="418.2" y1="33.9" x2="418.2" y2="17.3" stroke="#a4d6bf" stroke-width="0.6" stroke-opacity="1.0"/>
<line x1="435.4" y1="36.2" x2="439.7" y2="20.1" stroke="#a4d6bf" stroke-width="0.6" stroke-opacity="1.0"/>
<line x1="451.4" y1="42.8" x2="459.7" y2="28.4" stroke="#a4d6bf" stroke-width="0.6" stroke-opacity="1.0"/>
<line x1="465.2" y1="53.3" x2="476.9" y2="41.6" stroke="#a4d6bf" stroke-width="0.6" stroke-opacity="1.0"/>
<line x1="475.7" y1="67.1" x2="490.1" y2="58.8" stroke="#a4d6bf" stroke-width="0.6" stroke-opacity="1.0"/>
<line x1="482.3" y1="83.1" x2="498.4" y2="78.8" stroke="#a4d6bf" stroke-width="0.6" stroke-opacity="1.0"/>
<ellipse cx="418.2" cy="100.3" rx="83" ry="83" fill="none" stroke="#72c29a" stroke-width="0.9" stroke-opacity="1.0"/>
<path d="M317,68.5 L357.4,36.8 L402.5,28.3 Z" fill="url(#f1)" stroke="url(#f1)" stroke-width="0.6"/>
<path d="M357.4,36.8 L386.8,17.9 L402.5,28.3 Z" fill="url(#f2)" stroke="url(#f2)" stroke-width="0.6"/>
<path d="M386.8,17.9 L424.6,23.1 L402.5,28.3 Z" fill="url(#f3)" stroke="url(#f3)" stroke-width="0.6"/>
<path d="M424.6,23.1 L476.2,42 L402.5,28.3 Z" fill="url(#f4)" stroke="url(#f4)" stroke-width="0.6"/>
<path d="M476.2,42 L502.7,55.8 L402.5,28.3 Z" fill="url(#f5)" stroke="url(#f5)" stroke-width="0.6"/>
<path d="M402.5,28.3 L502.7,55.8 L488,86.6 Z" fill="url(#f6)" stroke="url(#f6)" stroke-width="0.6"/>
<path d="M402.5,28.3 L488,86.6 L454.5,107.4 Z" fill="url(#f7)" stroke="url(#f7)" stroke-width="0.6"/>
<path d="M402.5,28.3 L454.5,107.4 L394.8,91.8 Z" fill="url(#f8)" stroke="url(#f8)" stroke-width="0.6"/>
<path d="M402.5,28.3 L394.8,91.8 L365.4,99.8 Z" fill="url(#f9)" stroke="url(#f9)" stroke-width="0.6"/>
<path d="M402.5,28.3 L365.4,99.8 L336,76.5 Z" fill="url(#f10)" stroke="url(#f10)" stroke-width="0.6"/>
<path d="M402.5,28.3 L336,76.5 L317,68.5 Z" fill="url(#f11)" stroke="url(#f11)" stroke-width="0.6"/>
<path d="M317,68.5 L336,76.5 L329.8,141.5 Z" fill="url(#f12)" stroke="url(#f12)" stroke-width="0.6"/>
<path d="M336,76.5 L365.4,99.8 L329.8,141.5 Z" fill="url(#f13)" stroke="url(#f13)" stroke-width="0.6"/>
<path d="M365.4,99.8 L394.8,91.8 L454.5,107.4 Z" fill="url(#f14)" stroke="url(#f14)" stroke-width="0.6"/>
<path d="M365.4,99.8 L454.5,107.4 L393.8,166.6 Z" fill="url(#f15)" stroke="url(#f15)" stroke-width="0.6"/>
<path d="M365.4,99.8 L393.8,166.6 L329.8,141.5 Z" fill="url(#f16)" stroke="url(#f16)" stroke-width="0.6"/>
<path d="M329.8,141.5 L393.8,166.6 L369.5,177.5 Z" fill="url(#f17)" stroke="url(#f17)" stroke-width="0.6"/>
<path d="M369.5,177.5 L393.8,166.6 L401.5,185.8 Z" fill="url(#f18)" stroke="url(#f18)" stroke-width="0.6"/>
<path d="M393.8,166.6 L454.3,159.2 L401.5,185.8 Z" fill="url(#f19)" stroke="url(#f19)" stroke-width="0.6"/>
<path d="M393.8,166.6 L454.5,107.4 L454.3,159.2 Z" fill="url(#f20)" stroke="url(#f20)" stroke-width="0.6"/>
<path d="M454.5,107.4 L482.5,133 L454.3,159.2 Z" fill="url(#f21)" stroke="url(#f21)" stroke-width="0.6"/>
<path d="M454.5,107.4 L488,86.6 L482.5,133 Z" fill="url(#f22)" stroke="url(#f22)" stroke-width="0.6"/>
<path d="M488,86.6 L502.7,55.8 L515.4,75.9 Z" fill="url(#f23)" stroke="url(#f23)" stroke-width="0.6"/>
<path d="M488,86.6 L515.4,75.9 L482.5,133 Z" fill="url(#f24)" stroke="url(#f24)" stroke-width="0.6"/>
<path d="M482.5,133 L515.4,75.9 L503.8,129.7 Z" fill="url(#f25)" stroke="url(#f25)" stroke-width="0.6"/>
<path d="M482.5,133 L503.8,129.7 L472.8,181 Z" fill="url(#f26)" stroke="url(#f26)" stroke-width="0.6"/>
<path d="M482.5,133 L472.8,181 L454.3,159.2 Z" fill="url(#f27)" stroke="url(#f27)" stroke-width="0.6"/>
<path d="M454.3,159.2 L472.8,181 L401.5,185.8 Z" fill="url(#f28)" stroke="url(#f28)" stroke-width="0.6"/>
<path d="M317,68.5 L357.4,36.8 L386.8,17.9 L424.6,23.1 L476.2,42 L502.7,55.8 L515.4,75.9 L503.8,129.7 L472.8,181 L401.5,185.8 L369.5,177.5 L329.8,141.5Z" fill="url(#glowB)"/>
<ellipse cx="418.2" cy="100.3" rx="6.4" ry="6.4" fill="none" stroke="#fff070" stroke-width="0.6" stroke-opacity="0.25"/>
<ellipse cx="418.2" cy="100.3" rx="12.7" ry="12.7" fill="none" stroke="#fff070" stroke-width="0.6" stroke-opacity="0.25"/>
<ellipse cx="418.2" cy="100.3" rx="19" ry="19" fill="none" stroke="#fff070" stroke-width="0.6" stroke-opacity="0.25"/>
<ellipse cx="418.2" cy="100.3" rx="25.1" ry="25.1" fill="none" stroke="#fff070" stroke-width="0.6" stroke-opacity="0.25"/>
<ellipse cx="418.2" cy="100.3" rx="31.1" ry="31.1" fill="none" stroke="#fff070" stroke-width="0.6" stroke-opacity="0.25"/>
<ellipse cx="418.2" cy="100.3" rx="36.9" ry="36.9" fill="none" stroke="#fff070" stroke-width="0.6" stroke-opacity="0.25"/>
<ellipse cx="418.2" cy="100.3" rx="42.5" ry="42.5" fill="none" stroke="#fff070" stroke-width="0.6" stroke-opacity="0.25"/>
<ellipse cx="418.2" cy="100.3" rx="47.8" ry="47.8" fill="none" stroke="#fff070" stroke-width="0.6" stroke-opacity="0.25"/>
<line x1="422.2" y1="100.3" x2="468" y2="100.3" stroke="#fff070" stroke-width="0.6" stroke-opacity="0.25"/>
<line x1="422.1" y1="101" x2="467.2" y2="108.9" stroke="#fff070" stroke-width="0.6" stroke-opacity="0.25"/>
<line x1="422" y1="101.7" x2="465" y2="117.3" stroke="#fff070" stroke-width="0.6" stroke-opacity="0.25"/>
<line x1="421.7" y1="102.3" x2="461.3" y2="125.2" stroke="#fff070" stroke-width="0.6" stroke-opacity="0.25"/>
<line x1="421.3" y1="102.9" x2="456.3" y2="132.3" stroke="#fff070" stroke-width="0.6" stroke-opacity="0.25"/>
<line x1="420.8" y1="103.4" x2="450.2" y2="138.4" stroke="#fff070" stroke-width="0.6" stroke-opacity="0.25"/>
<line x1="420.2" y1="103.8" x2="443.1" y2="143.4" stroke="#fff070" stroke-width="0.6" stroke-opacity="0.25"/>
<line x1="419.6" y1="104.1" x2="435.2" y2="147.1" stroke="#fff070" stroke-width="0.6" stroke-opacity="0.25"/>
<line x1="418.9" y1="104.2" x2="426.8" y2="149.3" stroke="#fff070" stroke-width="0.6" stroke-opacity="0.25"/>
<line x1="418.2" y1="104.3" x2="418.2" y2="150.1" stroke="#fff070" stroke-width="0.6" stroke-opacity="0.25"/>
<line x1="417.5" y1="104.2" x2="409.6" y2="149.3" stroke="#fff070" stroke-width="0.6" stroke-opacity="0.25"/>
<line x1="416.8" y1="104.1" x2="401.2" y2="147.1" stroke="#fff070" stroke-width="0.6" stroke-opacity="0.25"/>
<line x1="416.2" y1="103.8" x2="393.3" y2="143.4" stroke="#fff070" stroke-width="0.6" stroke-opacity="0.25"/>
<line x1="415.6" y1="103.4" x2="386.2" y2="138.4" stroke="#fff070" stroke-width="0.6" stroke-opacity="0.25"/>
<line x1="415.1" y1="102.9" x2="380.1" y2="132.3" stroke="#fff070" stroke-width="0.6" stroke-opacity="0.25"/>
<line x1="414.7" y1="102.3" x2="375.1" y2="125.2" stroke="#fff070" stroke-width="0.6" stroke-opacity="0.25"/>
<line x1="414.4" y1="101.7" x2="371.4" y2="117.3" stroke="#fff070" stroke-width="0.6" stroke-opacity="0.25"/>
<line x1="414.3" y1="101" x2="369.2" y2="108.9" stroke="#fff070" stroke-width="0.6" stroke-opacity="0.25"/>
<line x1="414.2" y1="100.3" x2="368.4" y2="100.3" stroke="#fff070" stroke-width="0.6" stroke-opacity="0.25"/>
<line x1="414.3" y1="99.6" x2="369.2" y2="91.7" stroke="#fff070" stroke-width="0.6" stroke-opacity="0.25"/>
<line x1="414.4" y1="98.9" x2="371.4" y2="83.3" stroke="#fff070" stroke-width="0.6" stroke-opacity="0.25"/>
<line x1="414.7" y1="98.3" x2="375.1" y2="75.4" stroke="#fff070" stroke-width="0.6" stroke-opacity="0.25"/>
<line x1="415.1" y1="97.7" x2="380.1" y2="68.3" stroke="#fff070" stroke-width="0.6" stroke-opacity="0.25"/>
<line x1="415.6" y1="97.2" x2="386.2" y2="62.2" stroke="#fff070" stroke-width="0.6" stroke-opacity="0.25"/>
<line x1="416.2" y1="96.8" x2="393.3" y2="57.2" stroke="#fff070" stroke-width="0.6" stroke-opacity="0.25"/>
<line x1="416.8" y1="96.5" x2="401.2" y2="53.5" stroke="#fff070" stroke-width="0.6" stroke-opacity="0.25"/>
<line x1="417.5" y1="96.4" x2="409.6" y2="51.3" stroke="#fff070" stroke-width="0.6" stroke-opacity="0.25"/>
<line x1="418.2" y1="96.3" x2="418.2" y2="50.5" stroke="#fff070" stroke-width="0.6" stroke-opacity="0.25"/>
<line x1="418.9" y1="96.4" x2="426.8" y2="51.3" stroke="#fff070" stroke-width="0.6" stroke-opacity="0.25"/>
<line x1="419.6" y1="96.5" x2="435.2" y2="53.5" stroke="#fff070" stroke-width="0.6" stroke-opacity="0.25"/>
<line x1="420.2" y1="96.8" x2="443.1" y2="57.2" stroke="#fff070" stroke-width="0.6" stroke-opacity="0.25"/>
<line x1="420.8" y1="97.2" x2="450.2" y2="62.2" stroke="#fff070" stroke-width="0.6" stroke-opacity="0.25"/>
<line x1="421.3" y1="97.7" x2="456.3" y2="68.3" stroke="#fff070" stroke-width="0.6" stroke-opacity="0.25"/>
<line x1="421.7" y1="98.3" x2="461.3" y2="75.4" stroke="#fff070" stroke-width="0.6" stroke-opacity="0.25"/>
<line x1="422" y1="98.9" x2="465" y2="83.3" stroke="#fff070" stroke-width="0.6" stroke-opacity="0.25"/>
<line x1="422.1" y1="99.6" x2="467.2" y2="91.7" stroke="#fff070" stroke-width="0.6" stroke-opacity="0.25"/>
<line x1="317" y1="68.5" x2="402.5" y2="28.3" stroke="#4a4a26" stroke-width="0.7" stroke-opacity="0.75"/>
<line x1="386.8" y1="17.9" x2="402.5" y2="28.3" stroke="#4a4a26" stroke-width="0.7" stroke-opacity="0.75"/>
<line x1="424.6" y1="23.1" x2="402.5" y2="28.3" stroke="#4a4a26" stroke-width="0.7" stroke-opacity="0.75"/>
<line x1="502.7" y1="55.8" x2="402.5" y2="28.3" stroke="#4a4a26" stroke-width="0.7" stroke-opacity="0.75"/>
<line x1="402.5" y1="28.3" x2="336" y2="76.5" stroke="#4a4a26" stroke-width="0.7" stroke-opacity="0.75"/>
<line x1="402.5" y1="28.3" x2="365.4" y2="99.8" stroke="#4a4a26" stroke-width="0.7" stroke-opacity="0.75"/>
<line x1="402.5" y1="28.3" x2="394.8" y2="91.8" stroke="#4a4a26" stroke-width="0.7" stroke-opacity="0.75"/>
<line x1="402.5" y1="28.3" x2="454.5" y2="107.4" stroke="#4a4a26" stroke-width="0.7" stroke-opacity="0.75"/>
<line x1="402.5" y1="28.3" x2="488" y2="86.6" stroke="#4a4a26" stroke-width="0.7" stroke-opacity="0.75"/>
<line x1="317" y1="68.5" x2="336" y2="76.5" stroke="#4a4a26" stroke-width="0.7" stroke-opacity="0.75"/>
<line x1="336" y1="76.5" x2="365.4" y2="99.8" stroke="#4a4a26" stroke-width="0.7" stroke-opacity="0.75"/>
<line x1="336" y1="76.5" x2="329.8" y2="141.5" stroke="#4a4a26" stroke-width="0.7" stroke-opacity="0.75"/>
<line x1="365.4" y1="99.8" x2="329.8" y2="141.5" stroke="#4a4a26" stroke-width="0.7" stroke-opacity="0.75"/>
<line x1="365.4" y1="99.8" x2="394.8" y2="91.8" stroke="#4a4a26" stroke-width="0.7" stroke-opacity="0.75"/>
<line x1="394.8" y1="91.8" x2="454.5" y2="107.4" stroke="#4a4a26" stroke-width="0.7" stroke-opacity="0.75"/>
<line x1="365.4" y1="99.8" x2="454.5" y2="107.4" stroke="#4a4a26" stroke-width="0.7" stroke-opacity="0.75"/>
<line x1="365.4" y1="99.8" x2="393.8" y2="166.6" stroke="#4a4a26" stroke-width="0.7" stroke-opacity="0.75"/>
<line x1="329.8" y1="141.5" x2="393.8" y2="166.6" stroke="#4a4a26" stroke-width="0.7" stroke-opacity="0.75"/>
<line x1="393.8" y1="166.6" x2="369.5" y2="177.5" stroke="#4a4a26" stroke-width="0.7" stroke-opacity="0.75"/>
<line x1="393.8" y1="166.6" x2="401.5" y2="185.8" stroke="#4a4a26" stroke-width="0.7" stroke-opacity="0.75"/>
<line x1="393.8" y1="166.6" x2="454.5" y2="107.4" stroke="#4a4a26" stroke-width="0.7" stroke-opacity="0.75"/>
<line x1="393.8" y1="166.6" x2="454.3" y2="159.2" stroke="#4a4a26" stroke-width="0.7" stroke-opacity="0.75"/>
<line x1="454.5" y1="107.4" x2="454.3" y2="159.2" stroke="#4a4a26" stroke-width="0.7" stroke-opacity="0.75"/>
<line x1="454.5" y1="107.4" x2="488" y2="86.6" stroke="#4a4a26" stroke-width="0.7" stroke-opacity="0.75"/>
<line x1="454.5" y1="107.4" x2="482.5" y2="133" stroke="#4a4a26" stroke-width="0.7" stroke-opacity="0.75"/>
<line x1="488" y1="86.6" x2="502.7" y2="55.8" stroke="#4a4a26" stroke-width="0.7" stroke-opacity="0.75"/>
<line x1="488" y1="86.6" x2="515.4" y2="75.9" stroke="#4a4a26" stroke-width="0.7" stroke-opacity="0.75"/>
<line x1="488" y1="86.6" x2="482.5" y2="133" stroke="#4a4a26" stroke-width="0.7" stroke-opacity="0.75"/>
<line x1="482.5" y1="133" x2="515.4" y2="75.9" stroke="#4a4a26" stroke-width="0.7" stroke-opacity="0.75"/>
<line x1="482.5" y1="133" x2="503.8" y2="129.7" stroke="#4a4a26" stroke-width="0.7" stroke-opacity="0.75"/>
<line x1="482.5" y1="133" x2="472.8" y2="181" stroke="#4a4a26" stroke-width="0.7" stroke-opacity="0.75"/>
<line x1="482.5" y1="133" x2="454.3" y2="159.2" stroke="#4a4a26" stroke-width="0.7" stroke-opacity="0.75"/>
<line x1="454.3" y1="159.2" x2="472.8" y2="181" stroke="#4a4a26" stroke-width="0.7" stroke-opacity="0.75"/>
<line x1="454.3" y1="159.2" x2="401.5" y2="185.8" stroke="#4a4a26" stroke-width="0.7" stroke-opacity="0.75"/>
<path d="M317,68.5 L357.4,36.8 L386.8,17.9 L424.6,23.1 L476.2,42 L502.7,55.8 L515.4,75.9 L503.8,129.7 L472.8,181 L401.5,185.8 L369.5,177.5 L329.8,141.5Z" fill="none" stroke="#2a4a40" stroke-width="0.7" stroke-opacity="0.7"/>
<path d="M317,17.5 V185.8 H515.5" fill="none" stroke="#8a8a8a" stroke-width="1"/>
<line x1="317" y1="25.3" x2="319.5" y2="25.3" stroke="#8a8a8a" stroke-width="1"/>
<line x1="317" y1="40.3" x2="319.5" y2="40.3" stroke="#8a8a8a" stroke-width="1"/>
<line x1="317" y1="55.3" x2="319.5" y2="55.3" stroke="#8a8a8a" stroke-width="1"/>
<line x1="317" y1="70.3" x2="319.5" y2="70.3" stroke="#8a8a8a" stroke-width="1"/>
<line x1="317" y1="85.3" x2="319.5" y2="85.3" stroke="#8a8a8a" stroke-width="1"/>
<line x1="317" y1="100.3" x2="319.5" y2="100.3" stroke="#8a8a8a" stroke-width="1"/>
<line x1="317" y1="115.3" x2="319.5" y2="115.3" stroke="#8a8a8a" stroke-width="1"/>
<line x1="317" y1="130.3" x2="319.5" y2="130.3" stroke="#8a8a8a" stroke-width="1"/>
<line x1="317" y1="145.3" x2="319.5" y2="145.3" stroke="#8a8a8a" stroke-width="1"/>
<line x1="317" y1="160.3" x2="319.5" y2="160.3" stroke="#8a8a8a" stroke-width="1"/>
<line x1="317" y1="175.3" x2="319.5" y2="175.3" stroke="#8a8a8a" stroke-width="1"/>
<line x1="328.6" y1="185.8" x2="328.6" y2="183.3" stroke="#8a8a8a" stroke-width="1"/>
<line x1="358.5" y1="185.8" x2="358.5" y2="183.3" stroke="#8a8a8a" stroke-width="1"/>
<line x1="388.4" y1="185.8" x2="388.4" y2="183.3" stroke="#8a8a8a" stroke-width="1"/>
<line x1="418.3" y1="185.8" x2="418.3" y2="183.3" stroke="#8a8a8a" stroke-width="1"/>
<line x1="448.2" y1="185.8" x2="448.2" y2="183.3" stroke="#8a8a8a" stroke-width="1"/>
<line x1="478.1" y1="185.8" x2="478.1" y2="183.3" stroke="#8a8a8a" stroke-width="1"/>
<line x1="508" y1="185.8" x2="508" y2="183.3" stroke="#8a8a8a" stroke-width="1"/>
<rect x="186" y="264.8" width="250" height="170.7" fill="#f6f6fc"/>
<line x1="209.9" y1="264.8" x2="209.9" y2="435.5" stroke="#dcdde6" stroke-width="1"/>
<line x1="233.8" y1="264.8" x2="233.8" y2="435.5" stroke="#dcdde6" stroke-width="1"/>
<line x1="257.6" y1="264.8" x2="257.6" y2="435.5" stroke="#dcdde6" stroke-width="1"/>
<line x1="281.5" y1="264.8" x2="281.5" y2="435.5" stroke="#dcdde6" stroke-width="1"/>
<line x1="305.3" y1="264.8" x2="305.3" y2="435.5" stroke="#dcdde6" stroke-width="1"/>
<line x1="329.1" y1="264.8" x2="329.1" y2="435.5" stroke="#dcdde6" stroke-width="1"/>
<line x1="353" y1="264.8" x2="353" y2="435.5" stroke="#dcdde6" stroke-width="1"/>
<line x1="376.9" y1="264.8" x2="376.9" y2="435.5" stroke="#dcdde6" stroke-width="1"/>
<line x1="400.7" y1="264.8" x2="400.7" y2="435.5" stroke="#dcdde6" stroke-width="1"/>
<line x1="424.6" y1="264.8" x2="424.6" y2="435.5" stroke="#dcdde6" stroke-width="1"/>
<line x1="186" y1="276" x2="436" y2="276" stroke="#dcdde6" stroke-width="1"/>
<line x1="186" y1="299.6" x2="436" y2="299.6" stroke="#dcdde6" stroke-width="1"/>
<line x1="186" y1="323.2" x2="436" y2="323.2" stroke="#dcdde6" stroke-width="1"/>
<line x1="186" y1="346.8" x2="436" y2="346.8" stroke="#dcdde6" stroke-width="1"/>
<line x1="186" y1="370.4" x2="436" y2="370.4" stroke="#dcdde6" stroke-width="1"/>
<line x1="186" y1="394" x2="436" y2="394" stroke="#dcdde6" stroke-width="1"/>
<line x1="186" y1="417.6" x2="436" y2="417.6" stroke="#dcdde6" stroke-width="1"/>
<ellipse cx="305" cy="347.2" rx="82.7" ry="82.7" fill="none" stroke="#a4d6bf" stroke-width="0.7" stroke-opacity="1.0"/>
<ellipse cx="305" cy="347.2" rx="81.1" ry="81.1" fill="none" stroke="#a4d6bf" stroke-width="0.7" stroke-opacity="1.0"/>
<ellipse cx="305" cy="347.2" rx="79" ry="79" fill="none" stroke="#a4d6bf" stroke-width="0.7" stroke-opacity="1.0"/>
<ellipse cx="305" cy="347.2" rx="76.4" ry="76.4" fill="none" stroke="#a4d6bf" stroke-width="0.7" stroke-opacity="1.0"/>
<ellipse cx="305" cy="347.2" rx="73.1" ry="73.1" fill="none" stroke="#a4d6bf" stroke-width="0.7" stroke-opacity="1.0"/>
<ellipse cx="305" cy="347.2" rx="68.9" ry="68.9" fill="none" stroke="#a4d6bf" stroke-width="0.7" stroke-opacity="1.0"/>
<line x1="372.2" y1="347.2" x2="389" y2="347.2" stroke="#a4d6bf" stroke-width="0.6" stroke-opacity="1.0"/>
<line x1="369.9" y1="364.6" x2="386.1" y2="368.9" stroke="#a4d6bf" stroke-width="0.6" stroke-opacity="1.0"/>
<line x1="363.2" y1="380.8" x2="377.7" y2="389.2" stroke="#a4d6bf" stroke-width="0.6" stroke-opacity="1.0"/>
<line x1="352.5" y1="394.7" x2="364.4" y2="406.6" stroke="#a4d6bf" stroke-width="0.6" stroke-opacity="1.0"/>
<line x1="338.6" y1="405.4" x2="347" y2="419.9" stroke="#a4d6bf" stroke-width="0.6" stroke-opacity="1.0"/>
<line x1="322.4" y1="412.1" x2="326.7" y2="428.3" stroke="#a4d6bf" stroke-width="0.6" stroke-opacity="1.0"/>
<line x1="305" y1="414.4" x2="305" y2="431.2" stroke="#a4d6bf" stroke-width="0.6" stroke-opacity="1.0"/>
<line x1="287.6" y1="412.1" x2="283.3" y2="428.3" stroke="#a4d6bf" stroke-width="0.6" stroke-opacity="1.0"/>
<line x1="271.4" y1="405.4" x2="263" y2="419.9" stroke="#a4d6bf" stroke-width="0.6" stroke-opacity="1.0"/>
<line x1="257.5" y1="394.7" x2="245.6" y2="406.6" stroke="#a4d6bf" stroke-width="0.6" stroke-opacity="1.0"/>
<line x1="246.8" y1="380.8" x2="232.3" y2="389.2" stroke="#a4d6bf" stroke-width="0.6" stroke-opacity="1.0"/>
<line x1="240.1" y1="364.6" x2="223.9" y2="368.9" stroke="#a4d6bf" stroke-width="0.6" stroke-opacity="1.0"/>
<line x1="237.8" y1="347.2" x2="221" y2="347.2" stroke="#a4d6bf" stroke-width="0.6" stroke-opacity="1.0"/>
<line x1="240.1" y1="329.8" x2="223.9" y2="325.5" stroke="#a4d6bf" stroke-width="0.6" stroke-opacity="1.0"/>
<line x1="246.8" y1="313.6" x2="232.3" y2="305.2" stroke="#a4d6bf" stroke-width="0.6" stroke-opacity="1.0"/>
<line x1="257.5" y1="299.7" x2="245.6" y2="287.8" stroke="#a4d6bf" stroke-width="0.6" stroke-opacity="1.0"/>
<line x1="271.4" y1="289" x2="263" y2="274.5" stroke="#a4d6bf" stroke-width="0.6" stroke-opacity="1.0"/>
<line x1="287.6" y1="282.3" x2="283.3" y2="266.1" stroke="#a4d6bf" stroke-width="0.6" stroke-opacity="1.0"/>
<line x1="305" y1="280" x2="305" y2="263.2" stroke="#a4d6bf" stroke-width="0.6" stroke-opacity="1.0"/>
<line x1="322.4" y1="282.3" x2="326.7" y2="266.1" stroke="#a4d6bf" stroke-width="0.6" stroke-opacity="1.0"/>
<line x1="338.6" y1="289" x2="347" y2="274.5" stroke="#a4d6bf" stroke-width="0.6" stroke-opacity="1.0"/>
<line x1="352.5" y1="299.7" x2="364.4" y2="287.8" stroke="#a4d6bf" stroke-width="0.6" stroke-opacity="1.0"/>
<line x1="363.2" y1="313.6" x2="377.7" y2="305.2" stroke="#a4d6bf" stroke-width="0.6" stroke-opacity="1.0"/>
<line x1="369.9" y1="329.8" x2="386.1" y2="325.5" stroke="#a4d6bf" stroke-width="0.6" stroke-opacity="1.0"/>
<ellipse cx="305" cy="347.2" rx="84" ry="84" fill="none" stroke="#72c29a" stroke-width="0.9" stroke-opacity="1.0"/>
<path d="M186.3,350.6 L197.8,311.3 L252.5,297.5 Z" fill="url(#f29)" stroke="url(#f29)" stroke-width="0.6"/>
<path d="M197.8,311.3 L239.5,268.3 L252.5,297.5 Z" fill="url(#f30)" stroke="url(#f30)" stroke-width="0.6"/>
<path d="M239.5,268.3 L402.5,288.5 L252.5,297.5 Z" fill="url(#f31)" stroke="url(#f31)" stroke-width="0.6"/>
<path d="M239.5,268.3 L375,268.8 L402.5,288.5 Z" fill="url(#f32)" stroke="url(#f32)" stroke-width="0.6"/>
<path d="M252.5,297.5 L402.5,288.5 L382.3,311.1 Z" fill="url(#f33)" stroke="url(#f33)" stroke-width="0.6"/>
<path d="M252.5,297.5 L382.3,311.1 L264.1,352.8 Z" fill="url(#f34)" stroke="url(#f34)" stroke-width="0.6"/>
<path d="M186.3,350.6 L252.5,297.5 L264.1,352.8 Z" fill="url(#f35)" stroke="url(#f35)" stroke-width="0.6"/>
<path d="M264.1,352.8 L382.3,311.1 L399,341.8 Z" fill="url(#f36)" stroke="url(#f36)" stroke-width="0.6"/>
<path d="M382.3,311.1 L402.5,288.5 L399,341.8 Z" fill="url(#f37)" stroke="url(#f37)" stroke-width="0.6"/>
<path d="M402.5,288.5 L424.6,299.8 L399,341.8 Z" fill="url(#f38)" stroke="url(#f38)" stroke-width="0.6"/>
<path d="M424.6,299.8 L435.5,349.3 L399,341.8 Z" fill="url(#f39)" stroke="url(#f39)" stroke-width="0.6"/>
<path d="M435.5,349.3 L411,384.1 L399,341.8 Z" fill="url(#f40)" stroke="url(#f40)" stroke-width="0.6"/>
<path d="M399,341.8 L411,384.1 L376.1,387.9 Z" fill="url(#f41)" stroke="url(#f41)" stroke-width="0.6"/>
<path d="M411,384.1 L387.5,409.5 L376.1,387.9 Z" fill="url(#f42)" stroke="url(#f42)" stroke-width="0.6"/>
<path d="M376.1,387.9 L387.5,409.5 L368.2,434.5 Z" fill="url(#f43)" stroke="url(#f43)" stroke-width="0.6"/>
<path d="M252.1,414.6 L376.1,387.9 L368.2,434.5 Z" fill="url(#f44)" stroke="url(#f44)" stroke-width="0.6"/>
<path d="M252.1,414.6 L399,341.8 L376.1,387.9 Z" fill="url(#f45)" stroke="url(#f45)" stroke-width="0.6"/>
<path d="M264.1,352.8 L399,341.8 L252.1,414.6 Z" fill="url(#f46)" stroke="url(#f46)" stroke-width="0.6"/>
<path d="M186.3,350.6 L264.1,352.8 L252.1,414.6 Z" fill="url(#f47)" stroke="url(#f47)" stroke-width="0.6"/>
<path d="M186.3,350.6 L218.5,393.5 L252.1,414.6 Z" fill="url(#f48)" stroke="url(#f48)" stroke-width="0.6"/>
<path d="M218.5,393.5 L223.8,410.2 L252.1,414.6 Z" fill="url(#f49)" stroke="url(#f49)" stroke-width="0.6"/>
<path d="M186.3,350.6 L197.8,311.3 L239.5,268.3 L375,268.8 L402.5,288.5 L424.6,299.8 L435.5,349.3 L411,384.1 L387.5,409.5 L368.2,434.5 L252.1,414.6 L223.8,410.2 L218.5,393.5Z" fill="url(#glowC)"/>
<ellipse cx="305" cy="347.2" rx="6.3" ry="6.3" fill="none" stroke="#fff070" stroke-width="0.6" stroke-opacity="0.4"/>
<ellipse cx="305" cy="347.2" rx="12.5" ry="12.5" fill="none" stroke="#fff070" stroke-width="0.6" stroke-opacity="0.4"/>
<ellipse cx="305" cy="347.2" rx="18.7" ry="18.7" fill="none" stroke="#fff070" stroke-width="0.6" stroke-opacity="0.4"/>
<ellipse cx="305" cy="347.2" rx="24.8" ry="24.8" fill="none" stroke="#fff070" stroke-width="0.6" stroke-opacity="0.4"/>
<ellipse cx="305" cy="347.2" rx="30.7" ry="30.7" fill="none" stroke="#fff070" stroke-width="0.6" stroke-opacity="0.4"/>
<ellipse cx="305" cy="347.2" rx="36.5" ry="36.5" fill="none" stroke="#fff070" stroke-width="0.6" stroke-opacity="0.4"/>
<ellipse cx="305" cy="347.2" rx="42" ry="42" fill="none" stroke="#fff070" stroke-width="0.6" stroke-opacity="0.4"/>
<line x1="309" y1="347.2" x2="350.1" y2="347.2" stroke="#fff070" stroke-width="0.6" stroke-opacity="0.4"/>
<line x1="308.9" y1="347.9" x2="349.4" y2="355" stroke="#fff070" stroke-width="0.6" stroke-opacity="0.4"/>
<line x1="308.8" y1="348.6" x2="347.4" y2="362.6" stroke="#fff070" stroke-width="0.6" stroke-opacity="0.4"/>
<line x1="308.5" y1="349.2" x2="344.1" y2="369.8" stroke="#fff070" stroke-width="0.6" stroke-opacity="0.4"/>
<line x1="308.1" y1="349.8" x2="339.5" y2="376.2" stroke="#fff070" stroke-width="0.6" stroke-opacity="0.4"/>
<line x1="307.6" y1="350.3" x2="334" y2="381.7" stroke="#fff070" stroke-width="0.6" stroke-opacity="0.4"/>
<line x1="307" y1="350.7" x2="327.6" y2="386.3" stroke="#fff070" stroke-width="0.6" stroke-opacity="0.4"/>
<line x1="306.4" y1="351" x2="320.4" y2="389.6" stroke="#fff070" stroke-width="0.6" stroke-opacity="0.4"/>
<line x1="305.7" y1="351.1" x2="312.8" y2="391.6" stroke="#fff070" stroke-width="0.6" stroke-opacity="0.4"/>
<line x1="305" y1="351.2" x2="305" y2="392.3" stroke="#fff070" stroke-width="0.6" stroke-opacity="0.4"/>
<line x1="304.3" y1="351.1" x2="297.2" y2="391.6" stroke="#fff070" stroke-width="0.6" stroke-opacity="0.4"/>
<line x1="303.6" y1="351" x2="289.6" y2="389.6" stroke="#fff070" stroke-width="0.6" stroke-opacity="0.4"/>
<line x1="303" y1="350.7" x2="282.4" y2="386.3" stroke="#fff070" stroke-width="0.6" stroke-opacity="0.4"/>
<line x1="302.4" y1="350.3" x2="276" y2="381.7" stroke="#fff070" stroke-width="0.6" stroke-opacity="0.4"/>
<line x1="301.9" y1="349.8" x2="270.5" y2="376.2" stroke="#fff070" stroke-width="0.6" stroke-opacity="0.4"/>
<line x1="301.5" y1="349.2" x2="265.9" y2="369.8" stroke="#fff070" stroke-width="0.6" stroke-opacity="0.4"/>
<line x1="301.2" y1="348.6" x2="262.6" y2="362.6" stroke="#fff070" stroke-width="0.6" stroke-opacity="0.4"/>
<line x1="301.1" y1="347.9" x2="260.6" y2="355" stroke="#fff070" stroke-width="0.6" stroke-opacity="0.4"/>
<line x1="301" y1="347.2" x2="259.9" y2="347.2" stroke="#fff070" stroke-width="0.6" stroke-opacity="0.4"/>
<line x1="301.1" y1="346.5" x2="260.6" y2="339.4" stroke="#fff070" stroke-width="0.6" stroke-opacity="0.4"/>
<line x1="301.2" y1="345.8" x2="262.6" y2="331.8" stroke="#fff070" stroke-width="0.6" stroke-opacity="0.4"/>
<line x1="301.5" y1="345.2" x2="265.9" y2="324.6" stroke="#fff070" stroke-width="0.6" stroke-opacity="0.4"/>
<line x1="301.9" y1="344.6" x2="270.5" y2="318.2" stroke="#fff070" stroke-width="0.6" stroke-opacity="0.4"/>
<line x1="302.4" y1="344.1" x2="276" y2="312.7" stroke="#fff070" stroke-width="0.6" stroke-opacity="0.4"/>
<line x1="303" y1="343.7" x2="282.4" y2="308.1" stroke="#fff070" stroke-width="0.6" stroke-opacity="0.4"/>
<line x1="303.6" y1="343.4" x2="289.6" y2="304.8" stroke="#fff070" stroke-width="0.6" stroke-opacity="0.4"/>
<line x1="304.3" y1="343.3" x2="297.2" y2="302.8" stroke="#fff070" stroke-width="0.6" stroke-opacity="0.4"/>
<line x1="305" y1="343.2" x2="305" y2="302.1" stroke="#fff070" stroke-width="0.6" stroke-opacity="0.4"/>
<line x1="305.7" y1="343.3" x2="312.8" y2="302.8" stroke="#fff070" stroke-width="0.6" stroke-opacity="0.4"/>
<line x1="306.4" y1="343.4" x2="320.4" y2="304.8" stroke="#fff070" stroke-width="0.6" stroke-opacity="0.4"/>
<line x1="307" y1="343.7" x2="327.5" y2="308.1" stroke="#fff070" stroke-width="0.6" stroke-opacity="0.4"/>
<line x1="307.6" y1="344.1" x2="334" y2="312.7" stroke="#fff070" stroke-width="0.6" stroke-opacity="0.4"/>
<line x1="308.1" y1="344.6" x2="339.5" y2="318.2" stroke="#fff070" stroke-width="0.6" stroke-opacity="0.4"/>
<line x1="308.5" y1="345.2" x2="344.1" y2="324.6" stroke="#fff070" stroke-width="0.6" stroke-opacity="0.4"/>
<line x1="308.8" y1="345.8" x2="347.4" y2="331.8" stroke="#fff070" stroke-width="0.6" stroke-opacity="0.4"/>
<line x1="308.9" y1="346.5" x2="349.4" y2="339.4" stroke="#fff070" stroke-width="0.6" stroke-opacity="0.4"/>
<line x1="239.5" y1="268.3" x2="252.5" y2="297.5" stroke="#3c3418" stroke-width="0.85" stroke-opacity="0.85"/>
<line x1="197.8" y1="311.3" x2="252.5" y2="297.5" stroke="#3c3418" stroke-width="0.85" stroke-opacity="0.85"/>
<line x1="186.3" y1="350.6" x2="252.5" y2="297.5" stroke="#3c3418" stroke-width="0.85" stroke-opacity="0.85"/>
<line x1="186.3" y1="350.6" x2="264.1" y2="352.8" stroke="#3c3418" stroke-width="0.85" stroke-opacity="0.85"/>
<line x1="252.5" y1="297.5" x2="264.1" y2="352.8" stroke="#3c3418" stroke-width="0.85" stroke-opacity="0.85"/>
<line x1="252.5" y1="297.5" x2="382.3" y2="311.1" stroke="#3c3418" stroke-width="0.85" stroke-opacity="0.85"/>
<line x1="252.5" y1="297.5" x2="402.5" y2="288.5" stroke="#3c3418" stroke-width="0.85" stroke-opacity="0.85"/>
<line x1="239.5" y1="268.3" x2="402.5" y2="288.5" stroke="#3c3418" stroke-width="0.85" stroke-opacity="0.85"/>
<line x1="264.1" y1="352.8" x2="382.3" y2="311.1" stroke="#3c3418" stroke-width="0.85" stroke-opacity="0.85"/>
<line x1="264.1" y1="352.8" x2="399" y2="341.8" stroke="#3c3418" stroke-width="0.85" stroke-opacity="0.85"/>
<line x1="252.1" y1="414.6" x2="399" y2="341.8" stroke="#3c3418" stroke-width="0.85" stroke-opacity="0.85"/>
<line x1="252.1" y1="414.6" x2="376.1" y2="387.9" stroke="#3c3418" stroke-width="0.85" stroke-opacity="0.85"/>
<line x1="382.3" y1="311.1" x2="402.5" y2="288.5" stroke="#3c3418" stroke-width="0.85" stroke-opacity="0.85"/>
<line x1="382.3" y1="311.1" x2="399" y2="341.8" stroke="#3c3418" stroke-width="0.85" stroke-opacity="0.85"/>
<line x1="402.5" y1="288.5" x2="399" y2="341.8" stroke="#3c3418" stroke-width="0.85" stroke-opacity="0.85"/>
<line x1="424.6" y1="299.8" x2="399" y2="341.8" stroke="#3c3418" stroke-width="0.85" stroke-opacity="0.85"/>
<line x1="435.5" y1="349.3" x2="399" y2="341.8" stroke="#3c3418" stroke-width="0.85" stroke-opacity="0.85"/>
<line x1="399" y1="341.8" x2="411" y2="384.1" stroke="#3c3418" stroke-width="0.85" stroke-opacity="0.85"/>
<line x1="399" y1="341.8" x2="376.1" y2="387.9" stroke="#3c3418" stroke-width="0.85" stroke-opacity="0.85"/>
<line x1="376.1" y1="387.9" x2="411" y2="384.1" stroke="#3c3418" stroke-width="0.85" stroke-opacity="0.85"/>
<line x1="376.1" y1="387.9" x2="387.5" y2="409.5" stroke="#3c3418" stroke-width="0.85" stroke-opacity="0.85"/>
<line x1="376.1" y1="387.9" x2="368.2" y2="434.5" stroke="#3c3418" stroke-width="0.85" stroke-opacity="0.85"/>
<line x1="264.1" y1="352.8" x2="252.1" y2="414.6" stroke="#3c3418" stroke-width="0.85" stroke-opacity="0.85"/>
<line x1="186.3" y1="350.6" x2="252.1" y2="414.6" stroke="#3c3418" stroke-width="0.85" stroke-opacity="0.85"/>
<line x1="186.3" y1="350.6" x2="218.5" y2="393.5" stroke="#3c3418" stroke-width="0.85" stroke-opacity="0.85"/>
<line x1="218.5" y1="393.5" x2="252.1" y2="414.6" stroke="#3c3418" stroke-width="0.85" stroke-opacity="0.85"/>
<line x1="218.5" y1="393.5" x2="223.8" y2="410.2" stroke="#3c3418" stroke-width="0.85" stroke-opacity="0.85"/>
<path d="M186.3,350.6 L197.8,311.3 L239.5,268.3 L375,268.8 L402.5,288.5 L424.6,299.8 L435.5,349.3 L411,384.1 L387.5,409.5 L368.2,434.5 L252.1,414.6 L223.8,410.2 L218.5,393.5Z" fill="none" stroke="#2a3a3a" stroke-width="0.7" stroke-opacity="0.7"/>
<path d="M186,264.8 V435.5 H436" fill="none" stroke="#8a8a8a" stroke-width="1"/>
<line x1="186" y1="276" x2="188.5" y2="276" stroke="#8a8a8a" stroke-width="1"/>
<line x1="186" y1="299.6" x2="188.5" y2="299.6" stroke="#8a8a8a" stroke-width="1"/>
<line x1="186" y1="323.2" x2="188.5" y2="323.2" stroke="#8a8a8a" stroke-width="1"/>
<line x1="186" y1="346.8" x2="188.5" y2="346.8" stroke="#8a8a8a" stroke-width="1"/>
<line x1="186" y1="370.4" x2="188.5" y2="370.4" stroke="#8a8a8a" stroke-width="1"/>
<line x1="186" y1="394" x2="188.5" y2="394" stroke="#8a8a8a" stroke-width="1"/>
<line x1="186" y1="417.6" x2="188.5" y2="417.6" stroke="#8a8a8a" stroke-width="1"/>
<line x1="209.9" y1="435.5" x2="209.9" y2="433" stroke="#8a8a8a" stroke-width="1"/>
<line x1="233.8" y1="435.5" x2="233.8" y2="433" stroke="#8a8a8a" stroke-width="1"/>
<line x1="257.6" y1="435.5" x2="257.6" y2="433" stroke="#8a8a8a" stroke-width="1"/>
<line x1="281.5" y1="435.5" x2="281.5" y2="433" stroke="#8a8a8a" stroke-width="1"/>
<line x1="305.3" y1="435.5" x2="305.3" y2="433" stroke="#8a8a8a" stroke-width="1"/>
<line x1="329.1" y1="435.5" x2="329.1" y2="433" stroke="#8a8a8a" stroke-width="1"/>
<line x1="353" y1="435.5" x2="353" y2="433" stroke="#8a8a8a" stroke-width="1"/>
<line x1="376.9" y1="435.5" x2="376.9" y2="433" stroke="#8a8a8a" stroke-width="1"/>
<line x1="400.7" y1="435.5" x2="400.7" y2="433" stroke="#8a8a8a" stroke-width="1"/>
<line x1="424.6" y1="435.5" x2="424.6" y2="433" stroke="#8a8a8a" stroke-width="1"/>
<text x="3.6" y="14" font-size="20" text-anchor="start" font-weight="bold" textLength="11.5" lengthAdjust="spacingAndGlyphs" fill="#000" stroke="#000" stroke-width="0.25">a</text>
<text x="27.2" y="32.8" font-size="15.5" text-anchor="start" textLength="8.6" lengthAdjust="spacingAndGlyphs" fill="#111" stroke="#111" stroke-width="0.25">8</text>
<text x="27.3" y="67.7" font-size="15.5" text-anchor="start" textLength="9.2" lengthAdjust="spacingAndGlyphs" fill="#111" stroke="#111" stroke-width="0.25">4</text>
<text x="28.5" y="102.4" font-size="15.5" text-anchor="start" textLength="8.7" lengthAdjust="spacingAndGlyphs" fill="#111" stroke="#111" stroke-width="0.25">0</text>
<text x="22.6" y="142.6" font-size="15.5" text-anchor="start" textLength="14.3" lengthAdjust="spacingAndGlyphs" fill="#111" stroke="#111" stroke-width="0.25">-4</text>
<text x="22.6" y="179.4" font-size="15.5" text-anchor="start" textLength="14.3" lengthAdjust="spacingAndGlyphs" fill="#111" stroke="#111" stroke-width="0.25">-8</text>
<text x="44" y="204" font-size="15.5" text-anchor="start" textLength="23.7" lengthAdjust="spacingAndGlyphs" fill="#111" stroke="#111" stroke-width="0.25">-10</text>
<text x="93.2" y="204.5" font-size="15.5" text-anchor="start" textLength="13.9" lengthAdjust="spacingAndGlyphs" fill="#111" stroke="#111" stroke-width="0.25">-5</text>
<text x="144.6" y="204.5" font-size="15.5" text-anchor="start" textLength="8.7" lengthAdjust="spacingAndGlyphs" fill="#111" stroke="#111" stroke-width="0.25">0</text>
<text x="190.2" y="204" font-size="15.5" text-anchor="start" textLength="8.7" lengthAdjust="spacingAndGlyphs" fill="#111" stroke="#111" stroke-width="0.25">5</text>
<text x="230.7" y="204.5" font-size="15.5" text-anchor="start" textLength="17.8" lengthAdjust="spacingAndGlyphs" fill="#111" stroke="#111" stroke-width="0.25">10</text>
<text x="77.5" y="227.2" font-size="15" text-anchor="start" textLength="131.3" lengthAdjust="spacingAndGlyphs" fill="#111" stroke="#111" stroke-width="0.25">Distance, Arb. Unit</text>
<text x="13.2" y="162.1" font-size="15" text-anchor="start" transform="rotate(-90 13.2 162.1)" textLength="132.1" lengthAdjust="spacingAndGlyphs" fill="#111" stroke="#111" stroke-width="0.25">Distance, Arb. Unit</text>
<text x="294.1" y="14.8" font-size="20" text-anchor="start" font-weight="bold" textLength="11.1" lengthAdjust="spacingAndGlyphs" fill="#000" stroke="#000" stroke-width="0.25">b</text>
<text x="294.2" y="46.4" font-size="15.5" text-anchor="start" textLength="16.4" lengthAdjust="spacingAndGlyphs" fill="#111" stroke="#111" stroke-width="0.25">20</text>
<text x="294" y="75" font-size="15.5" text-anchor="start" textLength="17.8" lengthAdjust="spacingAndGlyphs" fill="#111" stroke="#111" stroke-width="0.25">10</text>
<text x="302.8" y="104.8" font-size="15.5" text-anchor="start" textLength="9.5" lengthAdjust="spacingAndGlyphs" fill="#111" stroke="#111" stroke-width="0.25">0</text>
<text x="288.8" y="135.6" font-size="15.5" text-anchor="start" textLength="23.5" lengthAdjust="spacingAndGlyphs" fill="#111" stroke="#111" stroke-width="0.25">-10</text>
<text x="288.8" y="166.8" font-size="15.5" text-anchor="start" textLength="23.5" lengthAdjust="spacingAndGlyphs" fill="#111" stroke="#111" stroke-width="0.25">-20</text>
<text x="315.7" y="204.3" font-size="15.5" text-anchor="start" textLength="21.8" lengthAdjust="spacingAndGlyphs" fill="#111" stroke="#111" stroke-width="0.25">-30</text>
<text x="344.1" y="204.3" font-size="15.5" text-anchor="start" textLength="23.2" lengthAdjust="spacingAndGlyphs" fill="#111" stroke="#111" stroke-width="0.25">-20</text>
<text x="373.5" y="204.3" font-size="15.5" text-anchor="start" textLength="23.2" lengthAdjust="spacingAndGlyphs" fill="#111" stroke="#111" stroke-width="0.25">-10</text>
<text x="415.8" y="204.7" font-size="15.5" text-anchor="start" textLength="8.6" lengthAdjust="spacingAndGlyphs" fill="#111" stroke="#111" stroke-width="0.25">0</text>
<text x="439.6" y="204.7" font-size="15.5" text-anchor="start" textLength="17.3" lengthAdjust="spacingAndGlyphs" fill="#111" stroke="#111" stroke-width="0.25">10</text>
<text x="470.5" y="204.7" font-size="15.5" text-anchor="start" textLength="17.8" lengthAdjust="spacingAndGlyphs" fill="#111" stroke="#111" stroke-width="0.25">20</text>
<text x="498.8" y="204.7" font-size="15.5" text-anchor="start" textLength="16.8" lengthAdjust="spacingAndGlyphs" fill="#111" stroke="#111" stroke-width="0.25">30</text>
<text x="355.5" y="229.5" font-size="15" text-anchor="start" textLength="131.8" lengthAdjust="spacingAndGlyphs" fill="#111" stroke="#111" stroke-width="0.25">Distance, Arb. Unit</text>
<text x="142.9" y="260.6" font-size="20" text-anchor="start" font-weight="bold" textLength="10.9" lengthAdjust="spacingAndGlyphs" fill="#000" stroke="#000" stroke-width="0.25">c</text>
<text x="163.9" y="281.7" font-size="15.5" text-anchor="start" textLength="17.9" lengthAdjust="spacingAndGlyphs" fill="#111" stroke="#111" stroke-width="0.25">10</text>
<text x="164.5" y="305.8" font-size="15.5" text-anchor="start" textLength="17.8" lengthAdjust="spacingAndGlyphs" fill="#111" stroke="#111" stroke-width="0.25">20</text>
<text x="163.9" y="329.5" font-size="15.5" text-anchor="start" textLength="17.9" lengthAdjust="spacingAndGlyphs" fill="#111" stroke="#111" stroke-width="0.25">10</text>
<text x="168.8" y="355.2" font-size="15.5" text-anchor="start" textLength="9.2" lengthAdjust="spacingAndGlyphs" fill="#111" stroke="#111" stroke-width="0.25">0</text>
<text x="159.3" y="377" font-size="15.5" text-anchor="start" textLength="22.1" lengthAdjust="spacingAndGlyphs" fill="#111" stroke="#111" stroke-width="0.25">-10</text>
<text x="159.7" y="402.8" font-size="15.5" text-anchor="start" textLength="22.7" lengthAdjust="spacingAndGlyphs" fill="#111" stroke="#111" stroke-width="0.25">-20</text>
<text x="159.7" y="424.6" font-size="15.5" text-anchor="start" textLength="22.7" lengthAdjust="spacingAndGlyphs" fill="#111" stroke="#111" stroke-width="0.25">-30</text>
<text x="201.1" y="452.9" font-size="15.5" text-anchor="start" textLength="24.4" lengthAdjust="spacingAndGlyphs" fill="#111" stroke="#111" stroke-width="0.25">-40</text>
<text x="244.4" y="452.9" font-size="15.5" text-anchor="start" textLength="23.1" lengthAdjust="spacingAndGlyphs" fill="#111" stroke="#111" stroke-width="0.25">-20</text>
<text x="301.4" y="452.5" font-size="15.5" text-anchor="start" textLength="9.1" lengthAdjust="spacingAndGlyphs" fill="#111" stroke="#111" stroke-width="0.25">0</text>
<text x="347" y="452.6" font-size="15.5" text-anchor="start" textLength="17.8" lengthAdjust="spacingAndGlyphs" fill="#111" stroke="#111" stroke-width="0.25">20</text>
<text x="388.2" y="454.2" font-size="15.5" text-anchor="start" textLength="18.1" lengthAdjust="spacingAndGlyphs" fill="#111" stroke="#111" stroke-width="0.25">40</text>
<text x="234.5" y="471.2" font-size="15" text-anchor="start" textLength="131.3" lengthAdjust="spacingAndGlyphs" fill="#111" stroke="#111" stroke-width="0.25">Distance, Arb. Unit</text>
<text x="153.8" y="411.3" font-size="15" text-anchor="start" transform="rotate(-90 153.8 411.3)" textLength="132.8" lengthAdjust="spacingAndGlyphs" fill="#111" stroke="#111" stroke-width="0.25">Distance, Arb. Unit</text>
</svg>
</body></html>
